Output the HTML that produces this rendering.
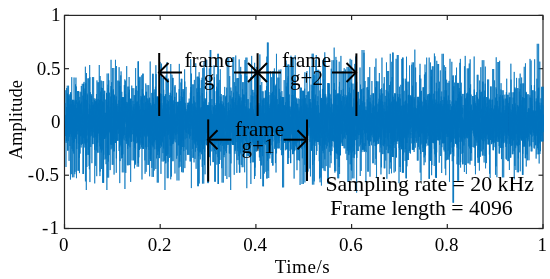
<!DOCTYPE html>
<html><head><meta charset="utf-8"><style>
html,body{margin:0;padding:0;background:#fff;}
body{width:550px;height:279px;overflow:hidden;}
svg{display:block;}
text{font-family:"Liberation Serif","Times New Roman",serif;fill:#000;}
</style></head><body>
<svg width="550" height="279" viewBox="0 0 550 279">
<rect x="0" y="0" width="550" height="279" fill="#fff"/>
<g stroke="#262626" stroke-width="1.2" fill="none">
<rect x="64.5" y="15.4" width="478.5" height="213.1"/>
<line x1="64.5" y1="228.5" x2="64.5" y2="224.0"/><line x1="64.5" y1="15.4" x2="64.5" y2="19.9"/><line x1="160.2" y1="228.5" x2="160.2" y2="224.0"/><line x1="160.2" y1="15.4" x2="160.2" y2="19.9"/><line x1="255.9" y1="228.5" x2="255.9" y2="224.0"/><line x1="255.9" y1="15.4" x2="255.9" y2="19.9"/><line x1="351.6" y1="228.5" x2="351.6" y2="224.0"/><line x1="351.6" y1="15.4" x2="351.6" y2="19.9"/><line x1="447.3" y1="228.5" x2="447.3" y2="224.0"/><line x1="447.3" y1="15.4" x2="447.3" y2="19.9"/><line x1="543.0" y1="228.5" x2="543.0" y2="224.0"/><line x1="543.0" y1="15.4" x2="543.0" y2="19.9"/><line x1="64.5" y1="15.4" x2="69.0" y2="15.4"/><line x1="543.0" y1="15.4" x2="538.5" y2="15.4"/><line x1="64.5" y1="68.68" x2="69.0" y2="68.68"/><line x1="543.0" y1="68.68" x2="538.5" y2="68.68"/><line x1="64.5" y1="121.95" x2="69.0" y2="121.95"/><line x1="543.0" y1="121.95" x2="538.5" y2="121.95"/><line x1="64.5" y1="175.22" x2="69.0" y2="175.22"/><line x1="543.0" y1="175.22" x2="538.5" y2="175.22"/><line x1="64.5" y1="228.5" x2="69.0" y2="228.5"/><line x1="543.0" y1="228.5" x2="538.5" y2="228.5"/>
</g>
<path d="M65.33 103.1 65.37 122.6 65.41 122.8 65.49 125.7 65.53 120.7 65.56 127.6 65.64 123.0 65.66 136.1 65.71 126.8 65.77 92.1 65.84 90.2 65.86 125.0 65.94 115.0 65.98 167.0 66.04 136.6 66.07 114.9 66.12 143.0 66.17 128.1 66.22 116.9 66.26 130.5 66.31 141.3 66.39 125.4 66.43 135.9 66.48 128.0 66.54 118.4 66.56 119.0 66.61 107.1 66.67 123.8 66.72 88.0 66.79 129.0 66.82 130.5 66.87 133.3 66.93 117.8 66.96 127.9 67.04 140.8 67.09 125.0 67.11 122.9 67.18 129.8 67.23 120.9 67.28 85.7 67.32 115.8 67.37 129.9 67.41 122.3 67.46 111.1 67.53 93.5 67.56 150.6 67.61 127.0 67.67 131.2 67.71 113.2 67.76 134.6 67.84 127.2 67.87 122.2 67.91 132.7 67.98 132.5 68.03 123.6 68.06 94.5 68.12 150.6 68.18 127.4 68.24 122.8 68.29 118.3 68.33 108.5 68.38 127.3 68.41 141.1 68.49 125.0 68.51 121.7 68.56 85.7 68.63 107.4 68.69 118.4 68.74 112.9 68.77 134.1 68.81 112.3 68.86 98.8 68.94 113.4 68.99 119.1 69.03 95.8 69.07 160.9 69.14 124.4 69.19 113.5 69.21 120.5 69.26 120.7 69.32 104.4 69.39 136.8 69.43 110.0 69.48 122.5 69.53 106.0 69.56 119.8 69.64 129.5 69.66 94.4 69.73 113.6 69.76 121.5 69.82 116.4 69.89 127.8 69.93 146.0 69.96 111.7 70.03 111.3 70.09 131.5 70.11 116.6 70.19 122.4 70.23 129.9 70.27 129.2 70.32 120.9 70.36 121.5 70.42 130.3 70.48 179.6 70.51 105.4 70.58 118.7 70.64 92.4 70.69 104.1 70.74 113.2 70.79 92.4 70.81 134.1 70.89 109.9 70.91 126.6 70.99 94.4 71.04 122.3 71.06 113.7 71.13 105.0 71.17 124.2 71.24 104.6 71.27 121.6 71.33 123.4 71.39 174.2 71.43 104.4 71.46 127.5 71.51 125.9 71.59 124.6 71.61 120.5 71.67 136.8 71.74 77.2 71.76 128.5 71.81 114.3 71.86 135.5 71.91 116.0 71.97 115.4 72.02 148.8 72.09 134.6 72.11 101.0 72.18 135.8 72.23 113.3 72.28 140.0 72.34 118.0 72.37 126.1 72.42 177.3 72.47 114.4 72.54 99.9 72.57 119.3 72.63 120.3 72.67 134.7 72.74 114.2 72.79 99.9 72.81 110.9 72.89 122.5 72.93 99.9 72.96 148.0 73.01 151.3 73.09 112.0 73.12 130.2 73.16 115.6 73.23 99.9 73.27 99.9 73.33 137.1 73.38 110.5 73.44 106.7 73.46 131.7 73.53 134.5 73.59 123.3 73.62 143.0 73.69 102.5 73.71 153.6 73.79 136.5 73.83 125.4 73.89 177.3 73.94 119.7 73.99 118.3 74.01 125.4 74.07 77.5 74.12 109.6 74.18 128.5 74.23 129.2 74.29 141.7 74.32 122.7 74.37 136.6 74.43 124.9 74.49 104.8 74.53 115.9 74.57 113.6 74.64 116.0 74.67 120.9 74.74 124.0 74.77 127.0 74.81 174.2 74.89 139.7 74.92 99.8 74.99 121.3 75.04 101.1 75.07 171.8 75.12 116.2 75.18 112.0 75.22 131.7 75.29 138.9 75.31 121.1 75.36 137.1 75.41 122.9 75.48 120.4 75.52 84.4 75.59 135.5 75.64 123.9 75.69 124.5 75.72 114.9 75.76 105.1 75.82 129.8 75.89 135.1 75.94 77.6 75.96 136.7 76.01 130.4 76.09 118.4 76.13 111.9 76.18 107.9 76.23 129.6 76.26 107.5 76.31 86.5 76.37 104.2 76.41 100.2 76.48 178.2 76.53 124.6 76.58 109.0 76.63 143.2 76.66 118.6 76.71 130.2 76.79 127.6 76.81 149.0 76.88 135.8 76.91 122.2 76.99 108.1 77.02 131.0 77.07 126.5 77.12 118.0 77.16 113.2 77.21 105.9 77.27 105.5 77.32 105.9 77.39 103.5 77.44 113.0 77.47 91.1 77.53 123.7 77.59 117.7 77.62 127.1 77.68 109.6 77.72 126.8 77.78 134.4 77.84 102.4 77.86 112.9 77.94 118.9 77.98 170.7 78.03 117.4 78.07 123.2 78.13 91.1 78.17 131.5 78.21 103.2 78.28 122.6 78.33 123.6 78.39 170.7 78.44 109.8 78.46 91.1 78.54 117.5 78.57 130.0 78.63 129.2 78.67 115.0 78.72 114.0 78.77 103.0 78.83 116.2 78.88 107.6 78.93 101.4 78.98 119.7 79.02 122.7 79.07 111.2 79.13 143.9 79.19 106.6 79.22 130.3 79.29 113.3 79.31 119.4 79.38 157.7 79.42 132.4 79.47 173.1 79.54 100.4 79.58 117.9 79.61 118.3 79.67 141.5 79.74 102.1 79.79 96.9 79.83 121.5 79.89 124.9 79.94 144.3 79.98 91.6 80.01 120.0 80.09 117.6 80.14 153.6 80.19 137.5 80.24 129.0 80.28 112.4 80.31 124.2 80.39 125.3 80.43 104.1 80.48 125.4 80.53 134.0 80.59 135.6 80.62 118.4 80.68 118.7 80.73 136.2 80.77 132.2 80.82 116.3 80.86 115.9 80.92 128.6 80.97 92.2 81.02 114.5 81.06 102.9 81.14 147.5 81.16 106.5 81.24 105.3 81.29 105.6 81.33 86.0 81.37 134.5 81.41 123.8 81.46 144.9 81.51 139.7 81.57 120.9 81.62 132.3 81.69 123.6 81.73 123.0 81.79 101.7 81.83 108.3 81.86 122.4 81.93 109.3 81.96 130.1 82.01 117.6 82.06 112.6 82.14 130.8 82.18 128.1 82.24 83.8 82.28 128.7 82.32 143.7 82.37 124.1 82.42 136.6 82.47 120.3 82.52 114.9 82.59 143.7 82.61 134.4 82.67 136.4 82.72 110.4 82.78 95.7 82.83 108.8 82.88 127.3 82.91 174.0 82.96 145.1 83.03 136.4 83.06 113.8 83.12 122.8 83.18 137.9 83.23 127.2 83.27 129.8 83.31 129.4 83.39 83.8 83.42 111.9 83.48 130.8 83.53 174.0 83.56 117.6 83.61 123.4 83.66 106.1 83.71 83.8 83.76 109.0 83.82 122.4 83.87 124.5 83.92 135.0 83.99 135.8 84.02 81.9 84.07 131.8 84.12 129.6 84.19 128.9 84.24 123.5 84.26 120.2 84.31 116.7 84.37 138.1 84.42 99.3 84.49 108.7 84.54 113.6 84.59 126.0 84.63 122.9 84.68 115.6 84.72 117.2 84.77 147.5 84.81 113.4 84.89 88.6 84.92 143.0 84.96 110.5 85.02 144.3 85.08 143.1 85.12 93.0 85.16 119.6 85.24 91.0 85.28 115.4 85.32 139.6 85.38 66.7 85.44 181.4 85.49 103.0 85.54 121.9 85.58 120.9 85.63 124.2 85.66 133.5 85.73 83.2 85.77 121.8 85.82 144.6 85.86 131.5 85.92 107.3 85.96 109.0 86.04 130.9 86.08 155.5 86.12 129.2 86.17 122.7 86.23 119.8 86.28 145.1 86.31 190.0 86.37 146.8 86.42 126.5 86.49 73.0 86.52 136.1 86.56 132.3 86.62 99.9 86.66 129.8 86.71 128.0 86.79 117.4 86.82 100.4 86.88 167.0 86.92 138.8 86.96 142.5 87.01 119.4 87.07 135.5 87.13 132.8 87.16 128.7 87.24 93.6 87.26 127.2 87.33 128.8 87.36 129.2 87.44 124.1 87.46 113.4 87.53 119.4 87.59 95.2 87.62 119.1 87.66 103.1 87.73 118.3 87.77 114.0 87.82 78.4 87.89 123.6 87.92 122.8 87.97 154.8 88.01 144.4 88.09 138.7 88.11 127.2 88.16 126.1 88.23 154.8 88.28 120.6 88.32 149.7 88.39 115.5 88.42 140.3 88.48 130.5 88.51 127.3 88.59 136.9 88.61 139.7 88.67 78.4 88.74 122.1 88.79 114.2 88.84 114.6 88.89 134.8 88.91 132.2 88.96 133.9 89.01 115.0 89.09 116.4 89.13 165.9 89.16 124.0 89.23 109.0 89.27 137.1 89.34 120.1 89.37 169.3 89.41 108.5 89.46 135.1 89.52 104.5 89.59 158.6 89.61 108.1 89.67 65.0 89.74 105.8 89.76 140.3 89.82 134.2 89.89 77.2 89.91 182.1 89.99 136.0 90.02 133.2 90.09 118.4 90.11 109.1 90.18 126.5 90.24 129.1 90.29 112.4 90.34 92.2 90.38 132.2 90.44 125.4 90.47 128.9 90.53 119.1 90.56 120.9 90.61 111.2 90.67 115.3 90.73 136.5 90.79 118.1 90.81 147.0 90.89 117.7 90.91 112.3 90.97 127.0 91.01 119.0 91.09 119.6 91.12 105.3 91.18 127.2 91.24 94.1 91.28 130.6 91.31 108.7 91.39 130.9 91.43 126.2 91.49 99.6 91.52 118.2 91.59 120.6 91.64 95.6 91.67 117.7 91.72 131.5 91.77 113.3 91.81 135.8 91.86 108.7 91.92 163.2 91.96 128.6 92.03 125.3 92.08 134.3 92.14 110.3 92.18 118.4 92.23 109.1 92.27 121.8 92.33 108.3 92.38 112.3 92.44 77.1 92.49 116.2 92.53 144.1 92.59 119.2 92.61 119.3 92.69 110.6 92.72 127.7 92.79 102.1 92.82 123.1 92.87 110.7 92.94 122.9 92.96 124.7 93.02 126.9 93.08 137.2 93.12 105.0 93.16 144.1 93.24 110.3 93.28 105.8 93.31 127.8 93.37 112.6 93.44 124.6 93.49 122.6 93.54 122.9 93.58 121.9 93.62 77.1 93.67 120.5 93.71 123.7 93.77 125.1 93.81 118.0 93.86 132.1 93.92 127.6 93.96 122.5 94.04 103.7 94.06 138.0 94.12 126.9 94.18 98.3 94.23 119.9 94.29 123.4 94.32 126.9 94.36 131.8 94.44 127.5 94.46 132.7 94.51 114.2 94.56 100.0 94.62 149.8 94.69 123.6 94.73 183.4 94.78 114.8 94.83 135.7 94.88 124.0 94.93 136.9 94.97 111.8 95.01 135.7 95.06 111.4 95.14 129.7 95.17 122.7 95.23 114.7 95.26 98.7 95.31 125.8 95.37 121.4 95.44 131.3 95.46 101.9 95.54 114.5 95.59 134.5 95.63 165.9 95.67 113.7 95.71 116.4 95.76 101.0 95.82 106.2 95.89 128.1 95.91 122.9 95.99 136.5 96.02 128.0 96.07 118.0 96.11 140.1 96.16 100.6 96.23 104.0 96.28 118.1 96.32 150.5 96.37 138.9 96.41 106.0 96.48 94.0 96.53 117.1 96.59 101.6 96.61 131.8 96.69 125.0 96.74 176.2 96.77 115.0 96.83 146.8 96.89 106.6 96.93 100.4 96.97 80.4 97.04 104.5 97.08 122.1 97.13 99.7 97.18 133.3 97.23 125.0 97.27 138.4 97.32 126.0 97.37 115.7 97.43 104.5 97.46 129.8 97.51 152.7 97.56 126.2 97.61 130.7 97.69 136.1 97.73 121.2 97.78 142.6 97.82 120.6 97.86 82.3 97.92 129.8 97.99 134.0 98.03 123.4 98.09 123.6 98.13 99.0 98.18 126.0 98.21 122.1 98.29 114.8 98.34 102.9 98.36 122.7 98.41 109.5 98.48 115.7 98.54 125.4 98.56 121.0 98.64 121.6 98.67 132.9 98.74 82.3 98.79 138.5 98.82 152.7 98.87 110.5 98.91 123.0 98.96 131.1 99.01 120.5 99.08 126.6 99.12 115.3 99.16 109.7 99.21 97.6 99.27 65.0 99.34 92.2 99.36 139.5 99.42 116.7 99.48 100.0 99.51 108.4 99.57 139.6 99.64 135.2 99.69 130.6 99.74 122.9 99.76 100.2 99.84 146.3 99.87 113.1 99.91 176.1 99.97 111.4 100.03 130.7 100.06 121.8 100.13 76.0 100.18 171.6 100.23 126.2 100.27 136.4 100.34 119.3 100.39 91.6 100.43 111.7 100.48 127.0 100.52 148.3 100.59 144.9 100.63 149.3 100.69 110.1 100.72 134.3 100.79 120.9 100.81 132.0 100.88 120.4 100.91 99.1 100.96 133.0 101.03 119.7 101.07 108.7 101.14 80.5 101.16 115.6 101.22 111.5 101.26 152.5 101.34 99.7 101.38 87.6 101.41 107.1 101.49 106.6 101.53 169.0 101.57 123.7 101.64 134.1 101.67 130.7 101.74 107.3 101.77 134.0 101.84 123.9 101.86 150.6 101.93 124.3 101.97 120.5 102.03 135.2 102.07 81.1 102.11 125.6 102.19 139.0 102.23 149.5 102.26 138.2 102.34 96.8 102.39 88.0 102.44 110.7 102.49 101.4 102.53 130.8 102.57 123.2 102.63 182.8 102.66 140.6 102.73 139.0 102.76 120.2 102.81 127.4 102.88 140.3 102.92 115.2 102.98 126.4 103.04 131.8 103.06 107.5 103.13 134.6 103.17 102.4 103.23 125.7 103.27 182.8 103.31 128.3 103.36 135.1 103.42 118.6 103.49 118.9 103.54 121.3 103.58 81.1 103.63 182.8 103.66 120.3 103.72 154.7 103.79 117.7 103.84 102.4 103.87 117.2 103.94 128.6 103.99 125.0 104.02 94.4 104.09 117.3 104.14 90.8 104.19 123.9 104.22 138.4 104.27 137.5 104.31 117.1 104.39 117.3 104.44 124.7 104.47 135.6 104.54 138.7 104.57 125.7 104.62 138.9 104.68 111.4 104.71 108.4 104.77 90.8 104.82 111.6 104.87 128.8 104.93 159.5 104.96 159.5 105.03 125.8 105.09 113.4 105.12 119.5 105.19 124.8 105.24 123.0 105.29 126.3 105.32 113.8 105.38 124.6 105.41 119.0 105.49 125.8 105.54 136.7 105.56 112.8 105.63 132.5 105.68 115.1 105.71 117.7 105.79 138.4 105.82 99.9 105.87 158.7 105.91 130.1 105.99 133.7 106.01 164.2 106.07 119.9 106.12 133.6 106.18 99.1 106.24 126.1 106.28 134.7 106.33 125.5 106.38 119.2 106.42 131.1 106.47 122.8 106.54 92.9 106.59 125.6 106.61 109.1 106.66 92.9 106.74 110.2 106.79 117.4 106.83 102.4 106.89 190.0 106.93 94.4 106.99 104.0 107.01 105.4 107.08 134.6 107.13 73.5 107.18 136.5 107.22 135.3 107.26 123.6 107.31 147.6 107.39 140.4 107.41 177.6 107.46 123.2 107.51 115.1 107.58 155.3 107.63 135.8 107.69 131.7 107.74 121.3 107.79 132.3 107.84 105.4 107.87 122.9 107.91 121.6 107.99 121.7 108.03 84.7 108.09 113.1 108.14 149.6 108.17 112.2 108.24 129.0 108.29 88.0 108.34 140.5 108.38 161.6 108.44 120.7 108.47 128.1 108.51 129.3 108.57 73.5 108.63 114.4 108.67 177.6 108.72 155.7 108.77 101.2 108.81 132.0 108.86 80.3 108.91 114.2 108.98 125.2 109.03 131.9 109.07 110.6 109.14 117.1 109.16 121.7 109.21 155.1 109.26 120.7 109.33 130.0 109.39 114.4 109.42 123.2 109.48 130.5 109.53 92.7 109.56 114.2 109.61 128.2 109.69 109.6 109.72 125.1 109.79 125.2 109.82 120.6 109.86 129.9 109.91 126.6 109.96 123.6 110.01 132.5 110.08 127.0 110.14 106.8 110.18 116.3 110.21 170.1 110.27 116.7 110.32 124.5 110.36 133.6 110.44 115.7 110.47 127.7 110.51 144.3 110.59 137.8 110.64 96.6 110.69 143.5 110.72 118.7 110.76 113.2 110.83 112.8 110.88 139.4 110.94 86.1 110.99 119.9 111.03 149.4 111.06 59.8 111.13 140.2 111.17 144.9 111.22 118.3 111.29 115.0 111.33 89.6 111.37 112.5 111.42 135.2 111.49 109.6 111.53 134.8 111.57 144.5 111.64 82.2 111.68 116.9 111.74 111.0 111.78 113.3 111.84 94.3 111.88 117.6 111.93 103.4 111.99 137.5 112.01 148.5 112.09 113.6 112.11 141.4 112.18 135.5 112.22 164.8 112.26 126.8 112.31 108.6 112.38 68.0 112.41 109.1 112.49 110.0 112.53 136.6 112.56 132.5 112.61 139.4 112.68 130.7 112.73 139.9 112.77 132.8 112.82 125.3 112.87 138.4 112.94 145.2 112.98 144.3 113.01 135.8 113.08 164.8 113.14 138.2 113.16 90.6 113.21 131.5 113.28 89.2 113.32 139.9 113.37 111.9 113.44 141.6 113.49 144.0 113.54 119.3 113.59 110.8 113.61 142.9 113.66 102.4 113.73 135.0 113.79 119.7 113.81 68.0 113.88 112.1 113.92 151.5 113.97 95.3 114.03 118.9 114.09 174.6 114.14 135.6 114.17 151.2 114.21 129.0 114.28 134.9 114.32 130.8 114.37 94.6 114.44 138.8 114.48 137.0 114.53 123.3 114.58 120.3 114.63 130.8 114.68 115.1 114.74 124.9 114.79 135.8 114.84 121.3 114.89 96.3 114.91 131.1 114.97 106.0 115.03 118.8 115.08 125.8 115.11 142.9 115.17 132.0 115.22 106.0 115.29 128.5 115.31 132.1 115.37 109.6 115.41 142.9 115.48 59.8 115.54 133.1 115.56 122.7 115.64 107.3 115.68 131.2 115.71 132.5 115.79 110.2 115.82 99.8 115.89 138.2 115.91 142.9 115.97 142.4 116.01 123.1 116.07 125.8 116.14 101.3 116.16 133.3 116.23 102.7 116.29 172.8 116.34 122.0 116.39 158.4 116.43 66.0 116.48 108.4 116.53 96.5 116.58 118.2 116.62 108.1 116.67 129.3 116.71 128.6 116.76 133.9 116.82 104.2 116.89 115.7 116.93 126.2 116.96 127.9 117.01 103.8 117.09 118.2 117.12 112.9 117.16 128.0 117.22 114.6 117.27 120.3 117.34 140.7 117.38 122.9 117.41 122.5 117.48 119.9 117.52 117.8 117.59 127.1 117.61 129.5 117.69 114.3 117.74 80.6 117.76 128.2 117.82 106.0 117.86 140.7 117.93 129.0 117.96 114.9 118.02 122.4 118.09 129.8 118.11 140.7 118.19 121.1 118.23 129.1 118.29 112.0 118.34 129.1 118.36 111.9 118.44 122.3 118.47 113.2 118.53 127.4 118.59 127.1 118.63 133.7 118.68 116.0 118.71 112.3 118.78 100.3 118.81 108.7 118.87 119.3 118.92 80.6 118.99 117.9 119.02 123.6 119.09 151.0 119.12 67.2 119.19 114.7 119.23 122.2 119.26 81.6 119.32 111.5 119.39 110.2 119.43 119.1 119.48 125.7 119.54 102.9 119.58 100.2 119.63 147.5 119.69 101.1 119.72 111.8 119.76 183.1 119.82 112.7 119.88 146.4 119.94 145.0 119.98 86.0 120.02 137.3 120.09 146.5 120.13 161.1 120.17 113.2 120.24 115.1 120.27 138.2 120.33 107.4 120.36 133.3 120.44 138.4 120.49 130.8 120.54 123.5 120.57 111.5 120.61 112.8 120.68 122.2 120.74 108.3 120.77 75.4 120.81 108.9 120.86 142.3 120.94 144.8 120.96 110.6 121.03 131.8 121.07 71.4 121.14 124.0 121.19 124.0 121.23 139.2 121.29 98.7 121.31 123.9 121.36 142.4 121.44 105.6 121.48 133.0 121.51 158.4 121.58 122.2 121.63 118.2 121.68 119.4 121.71 130.4 121.76 121.3 121.82 91.8 121.86 155.0 121.91 120.9 121.98 115.5 122.04 116.5 122.07 109.2 122.14 121.8 122.19 97.3 122.24 122.9 122.26 97.3 122.31 172.4 122.39 115.6 122.44 128.3 122.46 158.0 122.51 123.9 122.56 119.6 122.61 97.3 122.67 139.5 122.73 97.6 122.78 125.1 122.81 112.7 122.86 154.3 122.91 120.1 122.97 126.3 123.04 129.6 123.07 138.5 123.14 131.2 123.16 112.7 123.23 112.2 123.26 124.7 123.34 121.2 123.39 125.8 123.41 136.0 123.49 97.3 123.54 117.1 123.56 97.3 123.63 131.6 123.67 123.7 123.73 110.6 123.79 125.0 123.83 139.6 123.86 172.4 123.93 120.6 123.98 117.5 124.03 125.3 124.09 119.5 124.12 140.3 124.16 113.1 124.21 102.8 124.28 130.9 124.32 85.1 124.37 127.3 124.42 125.7 124.46 126.3 124.52 135.1 124.57 114.1 124.64 121.5 124.66 90.9 124.74 110.6 124.79 79.4 124.82 126.0 124.89 148.3 124.93 189.0 124.97 137.7 125.02 135.8 125.06 105.4 125.13 112.1 125.17 115.6 125.24 114.4 125.28 122.2 125.32 97.0 125.39 112.2 125.43 116.5 125.46 80.7 125.52 107.8 125.57 114.6 125.64 116.7 125.67 94.3 125.72 113.9 125.79 172.9 125.82 135.3 125.89 127.2 125.91 138.3 125.97 120.2 126.04 113.4 126.08 123.9 126.13 115.8 126.17 134.3 126.21 141.1 126.28 130.3 126.34 106.6 126.36 108.3 126.41 127.9 126.47 143.8 126.53 126.2 126.57 101.9 126.64 115.5 126.69 66.1 126.74 111.4 126.78 132.1 126.84 134.3 126.89 141.1 126.91 118.5 126.98 122.6 127.02 136.8 127.09 130.0 127.14 135.6 127.19 105.8 127.24 104.0 127.29 118.2 127.34 135.7 127.38 165.3 127.42 131.1 127.48 102.4 127.54 117.7 127.58 115.3 127.61 127.3 127.66 148.8 127.72 132.2 127.79 86.6 127.84 116.9 127.87 120.6 127.93 132.6 127.98 127.1 128.02 108.5 128.06 122.0 128.11 119.6 128.18 122.6 128.23 135.3 128.28 133.0 128.34 165.3 128.36 119.3 128.44 131.5 128.49 136.1 128.54 118.7 128.59 114.9 128.62 145.5 128.66 99.3 128.74 121.5 128.77 123.3 128.82 86.6 128.88 121.0 128.93 130.0 128.98 92.5 129.02 138.3 129.06 123.9 129.12 77.0 129.17 127.9 129.24 120.4 129.29 134.3 129.31 98.9 129.36 89.7 129.44 127.7 129.48 115.9 129.53 125.4 129.57 103.0 129.64 115.4 129.68 120.7 129.73 165.1 129.76 120.0 129.84 136.9 129.86 111.8 129.91 132.6 129.98 113.9 130.02 147.3 130.09 126.7 130.14 112.5 130.19 124.5 130.22 108.6 130.28 127.0 130.34 121.8 130.36 127.3 130.44 117.0 130.46 98.8 130.53 116.8 130.56 119.2 130.61 130.6 130.66 181.9 130.74 101.2 130.76 137.6 130.84 134.8 130.86 98.8 130.92 127.9 130.96 98.8 131.04 141.8 131.07 130.8 131.12 104.9 131.17 125.4 131.22 134.9 131.28 121.9 131.31 141.8 131.37 122.8 131.42 126.5 131.47 124.9 131.54 126.3 131.57 118.7 131.62 129.7 131.67 124.7 131.74 123.3 131.76 85.6 131.84 118.3 131.89 122.9 131.92 116.8 131.96 118.0 132.01 131.7 132.06 160.4 132.12 147.3 132.17 133.2 132.21 88.2 132.26 116.5 132.33 121.1 132.39 110.7 132.41 117.5 132.47 129.7 132.52 117.7 132.58 126.7 132.63 114.4 132.67 118.0 132.74 134.0 132.77 121.9 132.82 121.2 132.89 125.7 132.94 110.9 132.99 100.9 133.02 116.9 133.08 134.5 133.14 117.7 133.18 106.6 133.24 108.8 133.29 141.3 133.34 133.9 133.37 141.7 133.41 108.8 133.48 114.4 133.54 160.4 133.59 132.7 133.61 136.2 133.66 121.0 133.73 120.7 133.79 132.4 133.81 88.2 133.88 114.0 133.92 119.1 133.99 134.7 134.03 129.1 134.07 104.0 134.12 117.8 134.17 95.2 134.22 113.1 134.27 122.0 134.33 124.4 134.38 120.4 134.42 113.5 134.48 116.2 134.54 168.4 134.58 120.0 134.62 131.5 134.69 125.2 134.71 133.6 134.79 109.4 134.82 148.0 134.87 124.6 134.94 95.2 134.98 126.1 135.02 133.8 135.08 122.5 135.13 145.8 135.16 121.1 135.21 119.9 135.27 140.3 135.31 164.8 135.37 136.0 135.41 107.0 135.47 163.5 135.52 127.5 135.57 149.2 135.62 68.1 135.67 108.0 135.73 132.3 135.76 119.6 135.84 135.8 135.87 90.0 135.94 106.9 135.96 103.4 136.01 124.7 136.09 135.5 136.13 127.2 136.17 115.5 136.24 108.1 136.29 128.0 136.31 130.7 136.39 85.9 136.41 130.5 136.48 101.7 136.52 121.4 136.57 130.5 136.62 112.3 136.68 105.4 136.72 135.9 136.78 106.7 136.84 124.6 136.86 143.3 136.91 125.6 136.98 137.3 137.02 111.3 137.06 142.9 137.11 123.0 137.18 166.7 137.22 113.0 137.29 115.1 137.32 137.3 137.39 133.3 137.44 120.2 137.47 105.4 137.52 136.7 137.56 142.0 137.62 101.4 137.67 138.6 137.72 102.6 137.76 117.5 137.82 106.1 137.86 90.7 137.94 109.6 137.98 61.4 138.03 100.8 138.07 136.3 138.13 120.7 138.19 130.5 138.21 163.2 138.28 116.4 138.33 114.2 138.37 141.7 138.41 111.6 138.48 136.1 138.51 61.4 138.57 121.8 138.63 166.7 138.69 80.9 138.71 149.7 138.76 108.7 138.83 104.2 138.89 157.3 138.91 152.9 138.98 111.8 139.03 117.4 139.06 128.2 139.13 105.9 139.16 119.6 139.24 150.0 139.26 129.8 139.33 122.6 139.38 110.0 139.42 125.6 139.48 150.0 139.52 130.1 139.57 113.7 139.62 127.4 139.66 129.4 139.73 131.1 139.76 115.0 139.81 77.3 139.86 142.6 139.94 114.2 139.98 130.6 140.03 76.7 140.06 110.6 140.14 126.0 140.17 144.7 140.23 119.9 140.27 115.3 140.32 122.9 140.37 137.2 140.41 131.6 140.47 137.3 140.52 119.3 140.57 111.9 140.61 109.3 140.67 130.9 140.73 119.0 140.79 115.1 140.81 148.8 140.89 123.7 140.93 95.9 140.96 119.4 141.02 125.4 141.09 118.0 141.13 101.4 141.18 99.6 141.21 130.8 141.27 98.4 141.31 115.1 141.39 121.8 141.44 114.1 141.46 147.2 141.53 135.8 141.56 123.8 141.64 111.1 141.68 128.5 141.74 75.3 141.78 104.7 141.81 96.9 141.87 108.3 141.93 99.4 141.99 179.5 142.03 111.2 142.07 113.8 142.14 118.3 142.17 143.0 142.22 117.3 142.28 135.0 142.32 89.1 142.38 124.6 142.41 119.5 142.46 136.6 142.53 128.0 142.57 138.4 142.64 109.4 142.66 148.9 142.71 114.7 142.79 130.6 142.82 128.3 142.86 73.7 142.91 134.3 142.99 144.9 143.03 118.8 143.07 73.7 143.13 108.3 143.18 148.8 143.23 121.6 143.26 93.7 143.31 126.8 143.36 121.7 143.44 113.3 143.46 148.9 143.52 121.6 143.58 109.6 143.62 119.4 143.69 117.2 143.71 126.4 143.76 117.9 143.81 121.2 143.87 103.3 143.92 112.6 143.97 125.0 144.01 129.9 144.07 112.0 144.13 117.9 144.17 118.7 144.21 114.7 144.28 116.4 144.33 131.4 144.36 125.5 144.42 96.0 144.46 135.2 144.51 127.1 144.57 110.1 144.62 123.7 144.69 130.9 144.71 136.5 144.78 116.0 144.83 95.4 144.87 160.4 144.93 121.3 144.96 110.4 145.03 121.2 145.09 173.8 145.11 128.8 145.18 123.3 145.22 119.0 145.27 147.2 145.33 145.9 145.38 126.5 145.43 114.6 145.49 116.4 145.53 108.2 145.59 101.9 145.63 114.3 145.67 122.2 145.71 137.7 145.76 83.5 145.82 129.1 145.86 117.8 145.93 118.5 145.98 121.8 146.03 91.8 146.09 120.4 146.14 108.9 146.17 171.8 146.23 127.7 146.27 120.5 146.31 109.6 146.36 117.4 146.41 112.7 146.46 149.4 146.51 105.7 146.58 91.8 146.62 103.7 146.66 126.2 146.72 133.4 146.76 118.1 146.83 135.3 146.86 112.0 146.93 129.0 146.96 108.8 147.03 100.7 147.08 85.1 147.11 164.9 147.17 127.0 147.22 130.8 147.27 112.5 147.32 126.2 147.39 98.3 147.41 101.3 147.49 111.4 147.51 127.1 147.56 113.5 147.61 110.9 147.67 136.4 147.74 117.2 147.79 112.3 147.84 119.0 147.87 100.6 147.91 105.4 147.98 133.1 148.02 117.2 148.07 99.4 148.14 147.1 148.16 121.3 148.21 131.6 148.27 106.1 148.31 127.6 148.39 115.7 148.42 127.3 148.48 112.8 148.54 164.9 148.57 127.3 148.62 121.2 148.68 141.2 148.73 85.1 148.77 110.3 148.81 129.4 148.87 106.7 148.93 150.0 148.96 147.0 149.03 107.2 149.09 103.3 149.11 126.5 149.17 141.2 149.21 116.6 149.26 98.2 149.32 112.7 149.37 118.8 149.43 97.8 149.49 135.8 149.53 109.8 149.57 129.5 149.62 176.3 149.68 97.8 149.74 101.7 149.78 134.4 149.83 129.0 149.86 143.2 149.94 115.4 149.97 128.0 150.01 115.2 150.07 119.5 150.14 158.9 150.19 61.5 150.24 98.9 150.26 128.6 150.33 124.3 150.36 132.2 150.42 130.1 150.48 102.9 150.52 126.4 150.57 139.2 150.62 161.0 150.66 131.6 150.71 155.2 150.79 152.7 150.81 108.4 150.89 109.9 150.94 154.3 150.99 161.0 151.03 129.4 151.07 121.4 151.13 104.8 151.19 130.3 151.24 132.8 151.29 136.0 151.32 117.0 151.37 115.5 151.41 124.0 151.47 121.6 151.51 105.9 151.59 111.1 151.61 140.0 151.66 122.3 151.74 92.9 151.79 113.0 151.84 125.0 151.87 167.9 151.91 128.1 151.99 144.9 152.01 123.8 152.06 127.8 152.11 176.9 152.18 130.0 152.21 115.9 152.29 103.3 152.34 107.7 152.37 129.4 152.43 145.2 152.49 73.8 152.51 124.9 152.58 103.4 152.62 129.4 152.67 126.4 152.72 109.8 152.76 131.1 152.83 125.5 152.86 92.7 152.92 96.7 152.99 111.7 153.04 147.3 153.07 137.8 153.14 97.9 153.16 146.2 153.21 101.0 153.29 73.8 153.31 125.9 153.36 123.6 153.43 176.9 153.47 123.2 153.51 111.3 153.58 122.6 153.63 105.3 153.66 102.0 153.73 116.8 153.77 117.1 153.84 123.9 153.86 116.7 153.91 142.3 153.98 115.7 154.02 119.6 154.06 112.3 154.14 110.5 154.17 141.4 154.23 89.4 154.26 170.5 154.33 121.0 154.38 131.9 154.41 103.9 154.49 115.5 154.51 133.8 154.57 122.9 154.63 139.4 154.67 122.1 154.74 115.1 154.76 119.0 154.82 149.3 154.88 127.3 154.94 115.7 154.99 118.5 155.03 114.5 155.07 116.0 155.13 115.6 155.18 127.0 155.22 91.9 155.27 96.9 155.34 124.6 155.39 140.2 155.42 86.7 155.46 132.7 155.54 101.8 155.57 89.3 155.64 139.6 155.69 117.8 155.72 129.1 155.79 113.9 155.83 169.0 155.88 65.2 155.94 112.5 155.98 123.1 156.03 111.7 156.09 74.1 156.14 122.2 156.17 124.0 156.22 131.1 156.28 144.5 156.32 114.4 156.37 142.6 156.44 139.7 156.49 127.0 156.52 158.4 156.58 119.0 156.64 108.3 156.67 119.2 156.74 119.9 156.79 122.4 156.84 110.5 156.86 149.2 156.94 117.5 156.99 136.1 157.03 96.7 157.08 124.3 157.14 96.7 157.19 130.4 157.22 134.6 157.26 182.6 157.33 96.7 157.38 128.2 157.42 96.7 157.46 117.9 157.51 120.0 157.56 149.1 157.62 100.8 157.66 128.1 157.71 125.1 157.76 155.0 157.82 109.2 157.86 108.3 157.91 131.6 157.97 121.4 158.02 145.4 158.09 151.4 158.12 113.7 158.18 122.1 158.22 119.8 158.27 131.2 158.31 182.6 158.36 110.8 158.44 97.6 158.47 125.8 158.52 146.8 158.59 104.0 158.64 113.9 158.67 112.7 158.72 120.0 158.78 96.7 158.81 121.5 158.87 115.1 158.92 96.7 158.99 131.1 159.01 158.1 159.09 140.4 159.12 151.2 159.17 101.7 159.21 131.5 159.28 130.7 159.34 139.9 159.37 108.6 159.42 129.1 159.47 119.2 159.51 154.5 159.56 104.4 159.61 158.1 159.67 66.3 159.74 103.4 159.76 125.7 159.83 125.3 159.86 111.5 159.91 116.0 159.99 126.5 160.03 121.7 160.09 61.9 160.12 108.6 160.16 131.5 160.21 148.2 160.27 148.0 160.34 127.5 160.37 93.5 160.43 106.6 160.49 135.0 160.54 104.8 160.58 144.9 160.63 103.5 160.66 130.1 160.73 108.1 160.77 110.9 160.83 128.1 160.86 116.5 160.94 143.2 160.96 173.9 161.04 112.7 161.09 117.0 161.12 118.4 161.18 131.6 161.22 116.9 161.28 146.2 161.32 122.5 161.39 99.0 161.42 101.4 161.49 130.1 161.53 63.6 161.57 100.6 161.64 94.0 161.66 146.6 161.74 129.5 161.79 118.9 161.84 103.1 161.88 136.1 161.93 112.3 161.99 157.5 162.04 161.5 162.07 108.6 162.14 125.6 162.17 140.5 162.24 129.8 162.27 114.5 162.32 133.5 162.38 132.5 162.43 142.4 162.48 139.1 162.53 110.5 162.57 116.1 162.61 139.1 162.68 137.9 162.73 130.6 162.78 114.7 162.82 78.0 162.89 124.9 162.92 153.1 162.99 140.5 163.02 114.8 163.07 115.7 163.11 105.3 163.16 128.2 163.24 125.8 163.27 126.0 163.32 95.7 163.36 161.5 163.44 135.7 163.48 127.2 163.53 132.5 163.59 78.0 163.61 119.4 163.68 89.8 163.71 148.5 163.78 107.8 163.82 116.3 163.88 132.5 163.91 124.6 163.97 129.5 164.03 136.5 164.09 99.7 164.14 103.5 164.19 110.0 164.23 116.3 164.27 118.6 164.31 136.3 164.36 130.6 164.43 110.7 164.49 120.1 164.54 96.4 164.59 127.7 164.62 160.7 164.67 96.4 164.71 118.0 164.78 116.3 164.84 121.3 164.89 135.5 164.92 98.5 164.96 190.0 165.01 142.1 165.09 126.1 165.11 125.1 165.17 132.1 165.24 120.3 165.29 94.4 165.31 131.5 165.38 101.0 165.43 113.4 165.47 108.0 165.54 121.5 165.58 110.8 165.61 163.3 165.67 107.8 165.73 94.4 165.78 124.7 165.83 119.0 165.88 122.6 165.91 163.2 165.96 138.4 166.03 128.4 166.06 75.5 166.14 125.8 166.18 131.2 166.23 103.6 166.27 155.8 166.31 122.3 166.39 125.6 166.44 115.1 166.49 108.6 166.52 109.8 166.59 126.7 166.64 115.0 166.68 108.5 166.74 109.7 166.79 155.8 166.81 136.1 166.86 134.2 166.92 62.3 166.98 119.1 167.03 127.6 167.07 129.7 167.11 121.5 167.17 138.0 167.22 178.2 167.29 99.9 167.31 126.0 167.37 122.3 167.42 124.2 167.48 121.5 167.54 121.5 167.58 120.8 167.64 135.5 167.66 106.1 167.73 133.6 167.76 104.4 167.84 154.4 167.88 78.7 167.91 105.1 167.99 124.4 168.04 125.3 168.08 161.7 168.13 107.6 168.19 178.2 168.22 125.9 168.29 78.7 168.31 126.4 168.36 102.2 168.44 122.0 168.46 134.6 168.52 113.3 168.58 132.1 168.61 101.1 168.67 105.7 168.72 120.8 168.76 111.6 168.83 112.3 168.87 126.6 168.91 106.8 168.99 125.7 169.04 127.3 169.08 124.6 169.14 121.1 169.17 116.2 169.23 117.3 169.28 125.0 169.33 121.1 169.38 117.6 169.41 139.2 169.49 157.9 169.51 130.3 169.57 124.0 169.63 124.7 169.69 95.1 169.71 131.1 169.78 114.6 169.82 118.8 169.86 139.3 169.92 121.6 169.98 133.8 170.02 103.7 170.06 99.4 170.11 110.1 170.16 97.7 170.22 92.7 170.27 145.7 170.32 131.0 170.39 139.9 170.44 119.6 170.48 93.2 170.51 108.7 170.58 142.0 170.63 127.3 170.68 101.4 170.71 179.3 170.76 64.0 170.82 115.5 170.87 157.2 170.94 106.2 170.97 114.8 171.03 138.5 171.06 128.5 171.14 106.8 171.16 129.3 171.23 125.1 171.29 129.6 171.32 145.2 171.36 95.8 171.41 176.6 171.46 132.9 171.54 111.9 171.58 145.7 171.64 111.1 171.68 99.9 171.73 136.4 171.76 117.9 171.81 140.8 171.89 112.8 171.94 120.0 171.97 74.7 172.01 113.9 172.07 134.6 172.14 117.6 172.19 161.2 172.23 90.4 172.28 113.9 172.31 93.9 172.39 136.0 172.43 112.2 172.48 135.2 172.54 113.5 172.56 77.9 172.63 144.2 172.68 137.7 172.74 138.2 172.76 143.0 172.83 132.0 172.89 135.3 172.93 142.1 172.96 120.3 173.03 125.0 173.07 144.0 173.12 77.9 173.16 150.0 173.22 161.2 173.27 100.4 173.32 104.4 173.39 117.5 173.44 107.6 173.47 103.8 173.54 107.4 173.58 108.8 173.64 134.7 173.69 115.7 173.73 129.4 173.78 138.5 173.84 138.0 173.89 115.8 173.94 106.9 173.97 141.2 174.04 115.7 174.06 133.0 174.11 132.7 174.16 124.7 174.22 101.4 174.27 117.0 174.34 122.7 174.39 133.2 174.41 108.9 174.49 117.6 174.53 122.7 174.59 120.4 174.62 97.0 174.69 124.3 174.71 96.9 174.77 103.5 174.82 86.5 174.87 108.8 174.92 123.7 174.97 173.5 175.03 90.6 175.06 85.0 175.12 139.4 175.16 131.0 175.23 142.3 175.29 125.6 175.31 122.7 175.36 132.1 175.41 116.6 175.48 126.6 175.51 135.2 175.58 129.8 175.64 125.6 175.69 113.6 175.73 117.2 175.76 125.2 175.82 121.7 175.86 119.8 175.93 102.0 175.96 127.9 176.04 122.5 176.08 126.4 176.11 122.1 176.16 134.6 176.21 113.5 176.27 102.8 176.34 102.8 176.36 107.6 176.42 132.7 176.46 104.8 176.53 92.7 176.56 122.5 176.64 158.7 176.68 133.9 176.71 112.5 176.78 118.7 176.82 123.6 176.88 131.7 176.93 117.2 176.97 127.1 177.04 180.5 177.07 114.4 177.14 155.7 177.17 151.4 177.21 138.3 177.29 108.3 177.31 124.0 177.38 101.9 177.44 115.3 177.49 112.4 177.53 125.2 177.56 126.3 177.63 116.0 177.67 105.7 177.72 119.9 177.77 114.8 177.81 122.5 177.86 127.0 177.94 134.1 177.96 118.5 178.03 111.8 178.06 101.9 178.11 126.5 178.17 129.2 178.22 145.4 178.26 118.6 178.31 110.5 178.36 101.9 178.41 106.1 178.46 121.5 178.51 101.9 178.57 117.4 178.63 136.0 178.68 130.4 178.73 142.4 178.77 145.1 178.81 118.3 178.86 110.3 178.91 180.5 178.99 122.6 179.03 134.6 179.06 167.6 179.14 89.2 179.17 103.2 179.22 113.8 179.27 118.0 179.32 63.9 179.37 128.9 179.42 111.0 179.46 134.4 179.54 100.3 179.56 130.6 179.62 137.3 179.67 99.0 179.71 124.4 179.76 112.1 179.82 129.2 179.88 161.6 179.93 112.3 179.97 145.6 180.03 111.6 180.06 111.2 180.11 124.3 180.18 166.7 180.23 121.8 180.26 129.6 180.33 113.8 180.36 123.1 180.42 111.5 180.46 128.1 180.54 101.2 180.57 154.9 180.63 136.5 180.66 114.9 180.72 143.5 180.78 111.4 180.83 139.3 180.89 120.6 180.91 82.5 180.96 128.2 181.04 130.4 181.07 117.4 181.14 112.8 181.16 96.1 181.23 149.7 181.26 78.8 181.32 108.3 181.37 142.7 181.42 122.5 181.49 92.1 181.52 101.1 181.56 113.4 181.61 171.8 181.68 124.0 181.71 115.8 181.76 126.8 181.81 122.9 181.89 78.8 181.92 125.3 181.96 137.2 182.02 114.6 182.08 122.2 182.12 117.3 182.17 172.4 182.24 115.2 182.26 110.1 182.34 122.7 182.39 110.4 182.44 147.0 182.47 133.0 182.52 101.4 182.57 97.0 182.62 118.4 182.66 123.4 182.74 139.9 182.79 116.8 182.83 110.9 182.89 89.2 182.92 114.0 182.99 115.0 183.04 135.6 183.09 128.2 183.13 139.3 183.18 99.6 183.24 140.7 183.28 89.2 183.31 126.4 183.36 121.8 183.41 172.4 183.46 110.3 183.51 126.2 183.57 127.3 183.63 121.4 183.69 110.3 183.72 112.0 183.76 129.2 183.84 151.1 183.89 91.6 183.94 108.4 183.96 118.2 184.03 147.2 184.06 123.4 184.14 127.4 184.16 110.9 184.23 129.5 184.26 128.5 184.32 107.5 184.36 102.3 184.44 109.2 184.48 104.5 184.53 114.3 184.56 109.0 184.62 69.4 184.69 115.1 184.73 120.8 184.79 119.5 184.83 81.5 184.86 168.1 184.94 125.9 184.97 128.0 185.04 129.1 185.08 126.5 185.11 139.3 185.18 120.7 185.23 106.7 185.28 120.3 185.32 118.3 185.39 131.5 185.43 107.9 185.48 129.4 185.51 114.0 185.56 120.8 185.64 131.3 185.67 102.9 185.73 121.7 185.76 120.1 185.83 117.5 185.88 160.6 185.94 125.6 185.99 117.3 186.03 104.0 186.08 86.9 186.14 125.9 186.16 109.2 186.24 149.6 186.27 115.0 186.31 119.4 186.37 132.9 186.41 111.5 186.46 120.2 186.51 132.7 186.58 130.0 186.63 111.7 186.66 125.8 186.72 121.4 186.79 114.9 186.82 120.5 186.87 138.2 186.94 115.1 186.98 111.9 187.03 117.6 187.08 115.5 187.14 128.3 187.19 125.7 187.21 125.3 187.28 127.3 187.31 118.8 187.38 112.9 187.44 105.2 187.48 154.8 187.51 112.9 187.57 111.8 187.61 110.1 187.68 125.2 187.73 115.8 187.78 119.1 187.82 123.0 187.88 102.8 187.91 126.4 187.99 124.3 188.03 117.3 188.09 125.8 188.14 133.4 188.16 133.1 188.22 102.8 188.27 154.8 188.32 102.8 188.36 127.7 188.41 120.6 188.48 123.9 188.53 125.4 188.58 132.5 188.63 134.3 188.68 128.4 188.71 119.2 188.76 103.5 188.82 112.5 188.87 105.7 188.92 117.5 188.97 122.5 189.03 133.2 189.08 122.7 189.13 154.9 189.17 98.6 189.24 131.4 189.26 124.3 189.32 125.9 189.37 127.2 189.43 131.8 189.49 138.5 189.53 105.1 189.58 119.2 189.62 119.1 189.68 101.5 189.74 122.6 189.77 116.3 189.84 121.4 189.88 110.3 189.93 116.8 189.98 118.6 190.03 161.4 190.09 142.6 190.14 132.0 190.17 132.8 190.24 124.4 190.26 131.8 190.32 136.2 190.37 92.7 190.41 120.6 190.47 127.2 190.54 125.7 190.56 125.1 190.62 97.1 190.68 113.0 190.71 59.1 190.78 161.4 190.82 115.6 190.88 102.9 190.93 87.0 190.98 120.8 191.04 103.4 191.09 128.8 191.14 121.4 191.19 115.3 191.24 90.5 191.28 112.7 191.31 120.3 191.36 188.1 191.44 150.4 191.49 73.6 191.53 119.7 191.58 126.0 191.63 119.6 191.68 106.5 191.73 112.6 191.78 115.7 191.81 108.3 191.88 117.4 191.93 121.6 191.98 111.9 192.04 122.6 192.06 121.6 192.14 119.3 192.19 139.9 192.22 109.3 192.29 84.4 192.31 124.8 192.38 135.5 192.42 118.6 192.47 103.7 192.54 129.2 192.56 134.5 192.64 116.0 192.66 141.1 192.73 148.9 192.77 126.8 192.83 157.8 192.89 124.7 192.94 128.1 192.96 117.0 193.02 126.8 193.09 138.8 193.12 129.1 193.16 122.6 193.22 134.6 193.29 157.8 193.33 134.7 193.36 84.4 193.42 110.0 193.47 132.9 193.51 119.5 193.59 106.4 193.64 123.5 193.66 136.0 193.73 119.7 193.77 96.3 193.81 139.7 193.87 114.2 193.91 121.0 193.98 122.6 194.04 162.4 194.09 140.1 194.14 110.9 194.17 142.7 194.24 100.7 194.28 124.7 194.33 117.4 194.38 79.9 194.41 115.0 194.49 124.8 194.53 126.0 194.56 122.6 194.62 106.1 194.66 105.0 194.72 103.0 194.79 115.7 194.82 123.7 194.87 144.4 194.94 111.8 194.96 109.0 195.04 158.9 195.06 158.9 195.14 123.5 195.17 115.6 195.23 102.3 195.29 138.4 195.34 115.0 195.37 106.6 195.41 127.9 195.48 151.7 195.53 126.5 195.56 140.2 195.62 110.1 195.69 134.5 195.73 63.3 195.76 118.3 195.83 133.7 195.87 128.8 195.94 138.4 195.97 114.3 196.02 125.5 196.07 131.8 196.12 168.8 196.17 114.7 196.22 147.9 196.28 117.8 196.31 139.3 196.38 132.2 196.42 110.1 196.46 132.7 196.51 116.0 196.59 126.1 196.61 94.5 196.67 88.4 196.74 137.0 196.76 136.0 196.81 133.3 196.87 119.2 196.94 121.0 196.96 107.7 197.01 141.8 197.09 76.7 197.11 138.2 197.19 125.7 197.21 141.2 197.29 119.4 197.33 145.3 197.36 121.0 197.44 100.7 197.48 116.9 197.51 125.8 197.59 92.1 197.63 137.6 197.67 186.2 197.74 126.5 197.76 116.9 197.81 76.7 197.89 118.5 197.91 121.9 197.99 135.5 198.01 150.6 198.08 112.7 198.13 114.2 198.19 107.0 198.22 87.3 198.27 116.4 198.34 116.2 198.36 123.8 198.44 186.2 198.47 128.0 198.52 138.2 198.59 84.4 198.62 156.2 198.66 76.7 198.71 113.3 198.78 118.8 198.83 139.5 198.86 125.2 198.92 130.2 198.97 141.7 199.03 134.6 199.09 151.4 199.13 72.2 199.19 112.0 199.22 137.3 199.26 183.5 199.32 78.3 199.36 118.9 199.42 128.2 199.46 109.4 199.51 136.5 199.58 92.2 199.63 151.3 199.69 146.9 199.74 124.9 199.76 136.7 199.84 95.7 199.89 152.6 199.93 136.1 199.99 117.9 200.03 120.2 200.09 88.0 200.12 131.1 200.16 109.5 200.22 132.1 200.28 159.4 200.31 143.4 200.36 130.4 200.43 116.4 200.49 127.9 200.54 127.9 200.57 112.9 200.62 123.4 200.69 107.5 200.74 151.7 200.77 115.6 200.84 116.4 200.88 141.2 200.91 138.2 200.97 111.9 201.02 121.4 201.08 118.4 201.11 115.8 201.16 109.3 201.23 133.8 201.29 80.1 201.31 113.3 201.39 126.0 201.42 134.3 201.48 134.6 201.52 154.2 201.58 112.6 201.62 133.0 201.69 139.4 201.72 107.0 201.77 142.1 201.83 120.6 201.86 132.7 201.94 144.6 201.98 121.0 202.03 77.7 202.07 115.7 202.12 143.8 202.18 107.8 202.21 166.9 202.28 136.6 202.32 93.2 202.38 108.4 202.43 150.0 202.48 183.6 202.51 106.3 202.58 123.9 202.62 134.6 202.68 68.1 202.73 134.2 202.78 160.5 202.83 107.2 202.86 135.7 202.94 142.6 202.99 149.0 203.04 126.3 203.08 128.0 203.11 114.1 203.19 101.4 203.23 113.5 203.26 137.6 203.32 116.0 203.38 104.1 203.44 136.9 203.46 149.1 203.53 113.0 203.56 115.8 203.64 104.1 203.66 121.2 203.74 183.6 203.78 131.5 203.84 143.0 203.88 141.4 203.93 68.1 203.97 132.4 204.03 140.4 204.07 61.1 204.13 100.0 204.18 127.8 204.24 114.7 204.28 98.4 204.33 137.4 204.37 128.7 204.42 142.3 204.47 101.9 204.53 165.1 204.59 130.8 204.63 151.8 204.66 125.8 204.71 105.1 204.79 127.8 204.82 130.1 204.88 111.4 204.94 144.3 204.99 121.7 205.04 114.6 205.06 174.3 205.14 125.0 205.17 107.6 205.22 111.8 205.29 135.4 205.32 126.0 205.36 119.4 205.42 140.5 205.49 111.2 205.54 123.3 205.57 120.2 205.62 118.0 205.68 99.1 205.74 121.8 205.76 126.9 205.84 100.0 205.89 128.7 205.92 129.0 205.97 98.0 206.01 119.8 206.07 122.2 206.14 133.3 206.17 108.7 206.21 117.2 206.28 129.8 206.32 145.2 206.39 143.4 206.43 125.0 206.49 91.8 206.52 132.5 206.59 116.2 206.64 130.2 206.66 110.7 206.73 59.8 206.79 125.6 206.83 145.2 206.89 129.7 206.92 105.0 206.98 125.8 207.02 131.8 207.06 110.3 207.11 125.6 207.19 132.7 207.24 123.4 207.29 115.6 207.31 118.8 207.38 113.7 207.43 133.0 207.47 125.8 207.52 125.5 207.58 122.5 207.61 149.6 207.67 105.3 207.72 183.1 207.77 105.3 207.83 105.3 207.87 105.3 207.94 111.6 207.99 128.5 208.03 120.5 208.06 114.6 208.11 122.0 208.19 115.5 208.21 139.2 208.27 105.3 208.34 105.3 208.36 183.1 208.43 140.6 208.46 105.3 208.53 126.4 208.59 161.2 208.64 124.9 208.69 114.2 208.73 117.1 208.78 105.9 208.81 114.0 208.86 120.5 208.93 147.9 208.96 136.7 209.04 102.3 209.09 131.4 209.13 108.5 209.19 118.1 209.23 136.7 209.29 123.2 209.33 68.5 209.36 130.3 209.43 120.8 209.49 106.3 209.52 126.8 209.56 120.2 209.62 143.9 209.69 120.5 209.71 156.8 209.76 110.0 209.84 115.0 209.89 129.9 209.94 136.6 209.99 123.5 210.02 157.3 210.09 128.2 210.14 126.6 210.19 50.0 210.23 115.4 210.26 87.2 210.31 96.9 210.38 130.7 210.43 112.8 210.46 89.7 210.51 165.5 210.57 118.1 210.62 112.3 210.67 151.4 210.72 137.9 210.79 50.0 210.82 111.5 210.89 140.0 210.93 128.4 210.97 124.5 211.03 113.6 211.06 125.3 211.11 143.9 211.18 110.4 211.24 131.7 211.29 122.6 211.33 134.2 211.39 131.8 211.41 126.5 211.48 114.5 211.52 114.6 211.56 127.4 211.63 117.7 211.68 125.4 211.74 121.1 211.76 120.7 211.82 116.6 211.86 99.0 211.91 151.4 211.97 120.2 212.03 105.2 212.08 131.1 212.12 132.8 212.18 85.0 212.24 114.2 212.28 144.8 212.32 114.0 212.38 113.9 212.43 130.3 212.46 119.4 212.54 118.8 212.56 128.6 212.63 129.9 212.67 131.0 212.74 125.8 212.78 139.6 212.84 122.9 212.87 141.8 212.91 162.1 212.99 123.4 213.02 136.1 213.09 122.4 213.11 127.4 213.16 132.1 213.24 117.2 213.28 115.2 213.32 140.8 213.39 162.1 213.41 106.8 213.46 118.2 213.54 115.6 213.58 128.9 213.62 127.3 213.68 85.0 213.71 128.8 213.77 136.8 213.83 122.3 213.89 110.6 213.92 135.7 213.96 108.6 214.03 128.0 214.08 65.2 214.13 121.7 214.17 143.2 214.24 141.5 214.27 109.7 214.32 106.0 214.38 133.7 214.44 151.1 214.48 77.2 214.53 101.0 214.56 115.5 214.64 181.7 214.67 134.0 214.73 117.8 214.78 141.4 214.84 91.2 214.86 119.9 214.91 114.9 214.97 142.7 215.01 110.3 215.06 108.3 215.11 110.5 215.19 105.1 215.23 126.6 215.28 127.0 215.33 110.4 215.39 137.3 215.43 181.7 215.47 146.1 215.51 127.2 215.57 131.4 215.61 137.8 215.69 114.9 215.74 131.7 215.77 127.0 215.83 125.6 215.87 131.7 215.93 105.1 215.99 128.6 216.02 117.7 216.06 154.2 216.11 121.0 216.16 103.2 216.23 132.1 216.27 118.8 216.31 144.3 216.38 109.8 216.43 139.2 216.49 141.2 216.51 127.2 216.58 86.7 216.62 131.6 216.67 141.4 216.72 115.4 216.78 118.9 216.83 74.4 216.89 164.7 216.93 146.4 216.97 127.1 217.02 134.3 217.07 123.7 217.14 132.3 217.19 108.2 217.23 124.4 217.27 122.6 217.33 90.6 217.37 115.7 217.43 119.2 217.46 123.0 217.51 121.2 217.57 110.1 217.62 139.9 217.66 97.7 217.74 88.5 217.78 97.5 217.82 53.8 217.89 157.1 217.91 132.0 217.97 184.0 218.02 119.3 218.06 142.8 218.13 124.7 218.19 108.2 218.22 82.8 218.26 141.8 218.34 109.2 218.36 53.8 218.41 121.1 218.47 90.7 218.51 184.0 218.56 91.1 218.64 122.8 218.66 163.2 218.74 105.6 218.78 99.8 218.81 96.3 218.86 96.5 218.93 123.2 218.98 138.8 219.03 115.7 219.07 115.9 219.14 109.0 219.17 136.5 219.21 119.3 219.27 131.2 219.31 107.9 219.37 110.9 219.42 137.0 219.47 103.5 219.53 164.0 219.59 105.9 219.64 119.4 219.68 134.6 219.72 138.0 219.76 79.9 219.83 122.7 219.86 132.3 219.91 114.4 219.98 142.0 220.01 159.9 220.09 146.2 220.11 112.1 220.19 117.0 220.24 142.1 220.29 69.2 220.34 111.4 220.38 124.0 220.42 110.5 220.48 110.9 220.53 144.8 220.56 126.9 220.64 115.0 220.67 108.4 220.73 100.9 220.77 151.5 220.82 123.4 220.89 111.5 220.94 103.7 220.96 96.7 221.01 124.5 221.08 109.4 221.11 143.5 221.19 107.3 221.21 124.4 221.27 94.0 221.31 121.3 221.39 111.6 221.44 103.7 221.46 129.2 221.51 121.3 221.56 124.4 221.63 119.7 221.68 142.5 221.73 124.4 221.77 125.4 221.82 168.2 221.88 124.7 221.91 141.5 221.99 104.9 222.03 130.7 222.07 182.6 222.11 101.3 222.16 139.7 222.23 140.6 222.26 113.9 222.33 145.9 222.37 127.8 222.42 105.9 222.49 122.4 222.51 129.5 222.58 132.9 222.62 135.9 222.66 131.2 222.72 120.5 222.79 104.3 222.81 108.3 222.88 130.8 222.92 133.3 222.98 95.2 223.04 108.2 223.07 133.2 223.14 113.6 223.17 122.5 223.22 135.9 223.28 111.7 223.32 182.6 223.37 113.3 223.43 135.8 223.48 116.9 223.52 102.7 223.59 114.6 223.63 131.7 223.69 123.4 223.73 128.3 223.76 95.2 223.83 139.2 223.86 122.4 223.91 115.1 223.98 148.8 224.02 124.2 224.09 157.2 224.14 138.4 224.17 155.0 224.22 115.8 224.27 106.3 224.34 139.6 224.37 130.8 224.41 119.5 224.49 111.9 224.53 115.4 224.57 108.1 224.64 123.7 224.68 118.2 224.71 86.9 224.79 128.1 224.82 109.0 224.86 115.7 224.94 111.6 224.97 127.6 225.03 115.1 225.08 121.7 225.13 115.1 225.16 144.4 225.21 135.2 225.26 175.9 225.32 126.2 225.38 118.6 225.44 97.2 225.49 127.4 225.53 120.0 225.57 130.7 225.62 131.6 225.68 124.2 225.72 142.6 225.79 151.2 225.83 105.1 225.86 96.0 225.94 108.3 225.96 121.6 226.01 136.9 226.09 140.2 226.14 121.2 226.16 129.0 226.22 121.2 226.28 126.3 226.31 95.3 226.37 130.0 226.44 153.1 226.49 121.7 226.51 123.4 226.57 121.1 226.62 147.8 226.68 106.3 226.71 87.6 226.79 124.1 226.81 147.4 226.88 179.0 226.93 124.4 226.99 103.0 227.04 114.7 227.08 116.8 227.11 130.1 227.18 142.5 227.23 57.6 227.29 108.2 227.31 115.2 227.39 117.3 227.42 117.7 227.49 123.7 227.53 119.4 227.56 123.2 227.63 118.7 227.68 136.9 227.71 132.4 227.76 115.2 227.82 144.7 227.88 144.7 227.92 121.6 227.96 144.7 228.01 119.4 228.08 111.1 228.11 123.7 228.18 130.3 228.24 144.7 228.29 123.1 228.34 132.0 228.38 111.9 228.41 127.9 228.47 102.4 228.54 106.0 228.56 140.7 228.63 107.8 228.67 128.8 228.74 103.7 228.77 57.6 228.82 123.7 228.87 113.6 228.93 130.9 228.99 118.4 229.03 127.7 229.09 137.0 229.14 177.2 229.19 142.4 229.21 138.5 229.29 110.3 229.33 153.4 229.38 110.5 229.43 129.4 229.47 137.7 229.52 118.8 229.59 112.5 229.63 132.3 229.69 76.1 229.71 109.7 229.78 110.5 229.83 123.5 229.86 135.2 229.93 138.1 229.97 132.4 230.01 130.3 230.07 112.0 230.12 95.6 230.16 105.3 230.24 118.8 230.26 154.0 230.34 104.5 230.38 104.6 230.42 125.4 230.46 130.1 230.54 111.4 230.56 135.5 230.64 109.2 230.68 190.0 230.72 137.3 230.76 121.9 230.82 87.5 230.86 122.1 230.94 113.4 230.98 143.7 231.02 163.4 231.07 122.9 231.12 129.8 231.17 131.7 231.21 118.4 231.27 90.8 231.32 118.1 231.38 131.8 231.43 113.3 231.49 120.0 231.53 115.1 231.59 108.5 231.63 132.4 231.67 123.6 231.71 128.8 231.78 132.0 231.83 98.8 231.86 111.1 231.93 142.3 231.99 117.0 232.02 144.2 232.06 115.6 232.11 132.4 232.17 125.5 232.21 123.5 232.29 110.6 232.33 111.6 232.37 97.3 232.43 145.0 232.46 128.6 232.54 128.9 232.58 112.8 232.63 99.5 232.66 117.1 232.72 129.9 232.78 118.1 232.82 57.1 232.86 121.4 232.92 132.3 232.99 145.0 233.02 101.6 233.08 139.4 233.14 98.9 233.16 119.6 233.21 125.0 233.28 123.1 233.31 125.6 233.39 101.9 233.41 119.8 233.49 145.0 233.51 92.7 233.56 109.6 233.62 137.1 233.68 126.9 233.74 134.5 233.77 57.1 233.84 145.0 233.89 118.6 233.94 130.2 233.97 133.1 234.01 135.6 234.09 124.9 234.14 125.1 234.17 128.0 234.24 174.8 234.29 108.6 234.33 120.7 234.38 82.1 234.44 101.1 234.49 130.2 234.54 122.7 234.56 117.9 234.61 128.3 234.66 123.5 234.72 110.6 234.76 122.0 234.83 102.2 234.89 133.0 234.94 118.9 234.96 143.0 235.04 153.8 235.09 126.8 235.14 138.9 235.18 129.4 235.24 151.1 235.27 100.0 235.32 121.0 235.38 133.5 235.42 136.2 235.47 112.9 235.52 98.2 235.57 142.0 235.62 131.0 235.69 149.7 235.74 55.5 235.79 119.4 235.84 86.2 235.87 123.8 235.92 128.8 235.99 133.1 236.04 129.7 236.09 134.9 236.11 111.9 236.19 113.3 236.22 133.4 236.27 78.3 236.31 111.8 236.38 116.3 236.43 134.7 236.48 118.2 236.51 122.3 236.59 104.9 236.62 135.2 236.67 108.4 236.73 115.3 236.76 137.3 236.84 172.9 236.88 108.0 236.94 142.1 236.97 91.5 237.03 108.8 237.09 121.5 237.14 160.1 237.17 117.9 237.23 135.7 237.27 122.6 237.34 107.9 237.37 107.4 237.41 115.7 237.49 125.7 237.52 78.0 237.59 104.1 237.63 114.8 237.68 127.6 237.73 151.2 237.79 133.7 237.84 148.0 237.88 105.0 237.92 119.3 237.97 132.0 238.01 115.1 238.09 100.6 238.11 107.9 238.19 128.2 238.23 109.6 238.29 131.0 238.31 141.5 238.39 114.7 238.43 102.6 238.47 110.2 238.51 139.2 238.56 78.0 238.64 112.5 238.69 128.2 238.72 156.2 238.78 107.9 238.83 109.7 238.87 115.0 238.92 145.8 238.98 160.1 239.03 94.3 239.07 164.6 239.11 134.9 239.17 59.4 239.22 130.5 239.27 96.2 239.32 134.9 239.38 98.3 239.42 172.6 239.49 149.8 239.52 140.9 239.57 130.9 239.62 120.0 239.69 102.8 239.73 125.4 239.79 104.4 239.81 152.2 239.89 172.6 239.91 128.4 239.99 113.1 240.04 154.4 240.08 138.2 240.13 123.7 240.19 127.3 240.21 123.6 240.29 119.9 240.33 124.6 240.38 125.2 240.42 152.7 240.46 105.5 240.51 131.2 240.58 125.5 240.62 134.2 240.69 66.9 240.71 135.4 240.79 114.4 240.82 104.4 240.87 97.4 240.92 104.2 240.97 112.7 241.04 110.9 241.06 142.6 241.13 108.0 241.16 74.7 241.24 164.9 241.26 107.6 241.34 114.8 241.36 111.7 241.43 142.2 241.48 112.3 241.54 119.6 241.56 110.3 241.62 121.5 241.66 104.9 241.71 117.4 241.76 111.2 241.81 100.7 241.89 118.8 241.93 106.4 241.97 118.1 242.03 132.9 242.08 167.2 242.14 138.0 242.16 122.4 242.24 131.2 242.28 141.0 242.33 97.8 242.38 151.2 242.42 100.8 242.48 141.4 242.54 120.1 242.57 89.3 242.64 151.6 242.66 140.9 242.73 82.2 242.78 118.9 242.82 129.1 242.86 121.8 242.94 135.1 242.99 119.7 243.02 167.2 243.09 94.9 243.13 126.1 243.19 82.2 243.24 144.4 243.26 115.3 243.31 125.1 243.39 94.4 243.41 126.1 243.49 109.9 243.53 108.2 243.57 98.1 243.63 139.9 243.66 99.2 243.73 121.2 243.79 122.9 243.81 125.8 243.89 127.0 243.92 126.3 243.97 154.4 244.04 140.5 244.08 113.5 244.14 124.9 244.16 138.4 244.23 132.7 244.27 130.2 244.31 124.3 244.37 119.2 244.43 125.2 244.48 137.4 244.53 94.7 244.57 104.5 244.63 172.3 244.67 103.6 244.74 115.2 244.79 126.1 244.82 119.7 244.88 71.8 244.92 102.9 244.98 60.0 245.04 123.4 245.07 130.7 245.13 126.0 245.17 123.3 245.24 129.4 245.26 106.9 245.34 111.0 245.38 119.2 245.41 139.9 245.47 113.4 245.52 141.3 245.58 118.6 245.64 120.7 245.69 151.8 245.73 134.3 245.76 132.2 245.84 89.7 245.89 57.6 245.91 124.7 245.98 106.6 246.02 108.2 246.07 125.8 246.13 106.4 246.16 120.7 246.21 132.2 246.28 92.4 246.31 127.0 246.39 149.9 246.42 128.3 246.46 109.8 246.54 145.1 246.56 104.5 246.64 105.0 246.69 76.0 246.74 135.0 246.79 107.2 246.81 188.2 246.86 130.3 246.92 119.1 246.97 57.6 247.01 117.3 247.06 108.5 247.11 118.2 247.19 114.7 247.21 126.7 247.28 130.3 247.32 121.7 247.38 146.1 247.42 117.9 247.48 112.7 247.51 120.9 247.57 123.7 247.61 111.6 247.67 122.0 247.74 112.6 247.79 99.2 247.81 115.0 247.89 113.0 247.93 155.9 247.96 119.3 248.04 117.1 248.07 113.5 248.11 118.1 248.19 127.6 248.21 99.2 248.27 110.6 248.32 122.7 248.36 155.9 248.42 132.8 248.49 111.0 248.53 126.3 248.58 128.5 248.61 125.8 248.67 129.6 248.71 124.0 248.77 109.9 248.82 114.4 248.87 108.5 248.92 108.0 248.99 129.9 249.02 109.4 249.07 81.5 249.11 96.6 249.16 123.5 249.22 143.4 249.29 111.5 249.34 109.0 249.36 135.9 249.43 141.3 249.46 156.7 249.51 112.9 249.58 135.3 249.63 125.8 249.69 131.1 249.74 136.1 249.76 137.7 249.83 119.9 249.89 126.2 249.94 129.8 249.98 153.5 250.04 125.4 250.09 150.5 250.14 127.9 250.19 135.0 250.24 126.1 250.29 108.9 250.31 115.1 250.39 113.6 250.41 102.6 250.47 163.1 250.54 114.3 250.56 122.2 250.64 123.5 250.69 144.4 250.71 112.2 250.78 101.8 250.84 77.0 250.88 184.0 250.93 110.7 250.98 105.8 251.01 128.4 251.08 107.7 251.12 95.3 251.18 130.8 251.22 120.5 251.26 133.7 251.33 106.6 251.37 126.7 251.44 137.8 251.47 102.8 251.51 108.6 251.56 134.7 251.62 104.7 251.66 55.9 251.73 82.5 251.77 97.0 251.84 129.9 251.86 145.2 251.94 134.6 251.97 119.9 252.04 140.5 252.06 108.2 252.13 118.8 252.19 114.9 252.22 125.1 252.28 162.3 252.31 89.9 252.37 133.1 252.42 111.3 252.49 141.5 252.51 132.8 252.56 139.0 252.64 106.5 252.66 142.5 252.73 135.3 252.78 114.1 252.82 119.2 252.89 96.1 252.92 100.2 252.96 114.6 253.04 116.3 253.06 89.9 253.13 97.9 253.16 119.5 253.23 137.5 253.27 134.3 253.32 113.5 253.36 109.3 253.43 162.3 253.47 112.0 253.53 119.7 253.56 139.5 253.64 130.3 253.66 143.2 253.71 126.5 253.78 138.0 253.81 120.8 253.87 123.9 253.93 144.9 253.99 113.3 254.02 92.4 254.07 99.2 254.13 133.1 254.16 114.1 254.21 128.4 254.28 124.0 254.34 126.8 254.38 134.1 254.44 148.1 254.47 179.0 254.52 118.4 254.57 99.7 254.62 62.8 254.67 112.6 254.74 129.6 254.77 116.9 254.82 137.6 254.87 126.6 254.94 124.3 254.97 167.6 255.03 149.7 255.08 176.1 255.13 136.9 255.18 118.5 255.21 112.7 255.27 128.4 255.32 150.9 255.36 118.5 255.43 69.0 255.49 122.4 255.51 131.2 255.58 112.3 255.61 123.4 255.69 142.2 255.73 120.8 255.76 145.3 255.83 105.4 255.86 114.1 255.91 140.0 255.98 118.7 256.03 111.9 256.09 108.4 256.14 128.0 256.17 94.8 256.23 127.6 256.28 123.5 256.31 66.9 256.38 151.4 256.42 117.2 256.47 146.6 256.53 131.5 256.58 123.6 256.62 127.3 256.69 119.9 256.71 133.2 256.78 123.8 256.81 151.4 256.89 127.8 256.94 141.9 256.98 113.1 257.04 124.1 257.09 120.2 257.13 125.6 257.19 138.1 257.21 71.0 257.29 134.8 257.34 142.3 257.38 126.1 257.43 99.0 257.46 101.2 257.52 123.1 257.58 120.5 257.62 115.6 257.66 104.5 257.74 118.1 257.79 128.5 257.82 127.4 257.88 107.5 257.93 148.6 257.99 130.5 258.01 117.5 258.07 114.2 258.12 114.3 258.16 71.0 258.22 109.0 258.27 113.4 258.32 112.2 258.37 133.5 258.41 130.3 258.46 123.7 258.51 121.0 258.58 122.0 258.64 118.2 258.69 121.9 258.71 127.9 258.79 143.6 258.84 111.3 258.89 114.5 258.93 148.6 258.97 115.7 259.03 103.0 259.07 134.1 259.13 127.8 259.17 105.7 259.21 127.0 259.26 143.3 259.34 134.4 259.37 157.4 259.44 112.7 259.48 152.5 259.54 104.8 259.57 151.2 259.64 121.6 259.67 148.0 259.72 127.9 259.76 104.5 259.81 102.7 259.86 54.4 259.93 123.9 259.97 120.5 260.01 160.9 260.06 85.2 260.14 136.9 260.18 129.7 260.22 118.8 260.28 152.0 260.31 119.2 260.39 132.6 260.43 134.3 260.49 111.2 260.53 85.2 260.58 116.9 260.64 113.5 260.68 178.9 260.71 133.9 260.78 118.2 260.82 98.2 260.88 119.3 260.94 108.2 260.98 126.0 261.03 105.8 261.09 165.4 261.13 123.6 261.19 128.1 261.23 127.3 261.27 139.7 261.32 128.0 261.38 137.8 261.44 117.6 261.49 121.8 261.54 142.5 261.58 146.7 261.62 129.3 261.68 113.2 261.74 115.4 261.77 82.0 261.81 165.4 261.87 129.5 261.93 133.0 261.99 127.2 262.01 131.8 262.08 135.6 262.12 91.3 262.19 103.5 262.24 130.3 262.29 117.1 262.33 100.3 262.39 117.4 262.41 123.4 262.49 156.2 262.53 101.1 262.58 112.1 262.63 120.5 262.66 130.1 262.72 142.7 262.76 186.3 262.84 124.3 262.87 104.8 262.91 142.2 262.99 99.2 263.04 136.5 263.07 122.6 263.12 91.3 263.18 137.9 263.21 104.9 263.27 119.7 263.31 115.3 263.37 149.8 263.44 150.9 263.49 167.1 263.54 186.3 263.58 126.2 263.63 110.8 263.67 98.5 263.74 126.6 263.76 126.9 263.81 115.2 263.86 97.8 263.92 135.8 263.96 112.4 264.02 105.0 264.07 139.7 264.11 132.9 264.18 127.4 264.21 135.0 264.29 98.5 264.32 128.9 264.37 173.5 264.43 113.1 264.49 121.9 264.51 122.0 264.57 143.5 264.64 113.4 264.69 116.9 264.72 136.1 264.77 119.7 264.84 124.8 264.86 128.9 264.91 134.9 264.98 130.9 265.04 143.8 265.08 118.5 265.13 119.4 265.16 120.8 265.21 116.5 265.29 90.6 265.33 110.3 265.38 97.6 265.44 121.9 265.49 110.4 265.53 144.7 265.56 124.1 265.63 139.1 265.69 103.0 265.74 90.6 265.79 114.8 265.83 171.8 265.88 123.8 265.91 121.9 265.98 119.5 266.04 132.0 266.08 136.5 266.12 125.2 266.16 135.9 266.23 116.1 266.28 120.6 266.33 127.8 266.36 126.5 266.44 127.1 266.49 86.2 266.52 122.6 266.57 134.7 266.64 128.5 266.69 108.6 266.71 126.5 266.78 125.5 266.82 56.6 266.87 119.0 266.93 178.8 266.98 113.2 267.03 178.0 267.08 139.8 267.11 155.5 267.18 129.7 267.23 125.7 267.28 126.6 267.33 126.3 267.39 42.5 267.42 143.9 267.49 102.1 267.52 161.0 267.56 121.1 267.63 113.6 267.67 140.7 267.73 159.2 267.77 107.8 267.82 138.0 267.88 104.5 267.93 104.8 267.97 122.7 268.03 96.5 268.09 170.8 268.14 116.7 268.19 102.4 268.23 42.5 268.26 106.9 268.34 134.6 268.36 145.4 268.41 130.6 268.47 133.1 268.51 154.4 268.56 71.3 268.63 133.0 268.69 139.7 268.72 178.0 268.77 124.2 268.83 92.0 268.87 128.7 268.92 114.5 268.99 120.4 269.02 105.6 269.07 126.4 269.11 115.9 269.16 124.6 269.22 130.9 269.26 132.1 269.31 126.5 269.39 108.3 269.44 113.5 269.48 129.8 269.53 111.5 269.59 123.6 269.61 129.6 269.68 117.6 269.72 132.0 269.79 158.5 269.82 108.4 269.86 141.7 269.94 116.4 269.99 95.1 270.03 107.0 270.09 119.0 270.11 103.8 270.18 142.4 270.21 118.4 270.28 129.6 270.33 126.0 270.38 148.8 270.42 109.2 270.48 71.3 270.54 154.3 270.57 140.9 270.62 134.3 270.66 102.8 270.72 123.6 270.76 126.8 270.84 115.3 270.87 122.0 270.94 118.9 270.96 111.8 271.02 125.9 271.09 145.3 271.12 117.5 271.17 115.4 271.22 106.9 271.27 93.1 271.32 116.6 271.37 108.3 271.41 137.9 271.48 104.7 271.53 109.5 271.58 102.4 271.61 77.2 271.66 115.4 271.73 100.8 271.77 131.4 271.83 163.0 271.87 106.4 271.92 133.1 271.97 138.3 272.04 108.4 272.09 118.5 272.13 139.9 272.17 99.1 272.22 103.2 272.28 132.7 272.31 94.0 272.37 114.3 272.41 119.6 272.47 91.8 272.51 160.5 272.59 146.6 272.62 165.5 272.66 125.4 272.72 71.5 272.76 98.1 272.81 114.0 272.86 141.4 272.93 131.8 272.96 108.4 273.03 165.5 273.08 134.1 273.14 112.3 273.16 117.1 273.22 131.8 273.28 112.0 273.31 112.7 273.39 71.5 273.42 75.5 273.48 100.1 273.51 108.6 273.59 105.3 273.61 75.1 273.67 104.2 273.72 132.5 273.77 116.3 273.83 120.1 273.88 130.1 273.94 117.2 273.99 117.3 274.02 131.3 274.07 95.1 274.14 132.7 274.16 104.8 274.23 120.3 274.29 101.6 274.34 129.8 274.39 68.4 274.42 116.9 274.46 124.3 274.52 148.8 274.57 131.6 274.63 122.4 274.68 126.6 274.74 111.1 274.77 122.5 274.82 139.9 274.86 126.3 274.94 122.6 274.97 133.4 275.04 85.9 275.06 122.0 275.12 109.3 275.16 116.7 275.23 98.9 275.26 122.9 275.33 113.5 275.39 134.4 275.43 163.1 275.49 101.4 275.52 114.7 275.58 119.2 275.62 147.0 275.69 85.3 275.71 138.1 275.79 111.2 275.81 130.9 275.89 116.6 275.91 134.3 275.98 96.7 276.03 172.5 276.06 110.0 276.11 138.7 276.18 102.2 276.21 83.8 276.26 104.7 276.32 89.0 276.36 136.4 276.44 100.6 276.47 53.8 276.53 150.6 276.56 153.4 276.63 135.3 276.69 119.3 276.74 111.8 276.79 125.4 276.82 122.2 276.87 123.1 276.94 119.1 276.96 109.2 277.01 123.0 277.08 143.3 277.14 136.6 277.17 108.9 277.21 114.5 277.28 129.0 277.33 128.8 277.39 148.4 277.43 142.2 277.49 115.5 277.51 125.4 277.58 99.2 277.63 133.9 277.69 109.2 277.71 129.4 277.78 77.6 277.82 132.9 277.89 112.5 277.91 126.5 277.96 131.1 278.03 108.8 278.06 104.8 278.12 121.6 278.18 129.7 278.21 130.4 278.26 137.9 278.34 119.7 278.39 104.9 278.44 148.4 278.48 148.4 278.53 104.4 278.56 140.5 278.61 117.2 278.66 136.3 278.73 111.8 278.77 111.8 278.81 119.1 278.86 111.3 278.93 77.6 278.96 114.4 279.03 69.7 279.07 142.9 279.12 118.1 279.19 125.1 279.24 125.1 279.27 88.8 279.33 145.8 279.37 148.4 279.41 104.7 279.49 108.1 279.51 104.3 279.56 137.8 279.61 133.7 279.69 112.6 279.74 124.8 279.78 98.0 279.83 117.8 279.88 118.2 279.92 115.0 279.99 124.5 280.03 133.2 280.08 92.3 280.12 101.4 280.16 118.8 280.24 124.8 280.29 116.7 280.34 119.6 280.37 104.3 280.41 133.9 280.49 120.4 280.53 131.4 280.58 102.8 280.61 95.9 280.66 121.9 280.74 113.3 280.79 101.4 280.82 124.8 280.89 69.4 280.91 106.4 280.98 150.1 281.02 130.1 281.06 128.1 281.13 128.4 281.18 120.3 281.22 109.0 281.28 135.1 281.32 137.7 281.39 141.0 281.42 108.8 281.47 155.2 281.54 137.6 281.58 138.7 281.64 119.5 281.66 109.0 281.74 109.8 281.76 118.8 281.83 113.4 281.88 91.1 281.91 126.9 281.97 100.1 282.04 106.7 282.06 130.5 282.11 97.0 282.18 125.7 282.24 97.0 282.26 104.0 282.32 134.2 282.36 97.0 282.41 97.0 282.47 105.0 282.53 187.4 282.58 117.3 282.61 117.4 282.67 132.3 282.72 123.5 282.79 130.6 282.82 127.0 282.88 113.3 282.92 135.2 282.99 109.3 283.01 135.8 283.07 149.7 283.11 97.0 283.16 138.8 283.22 112.2 283.29 98.2 283.34 154.7 283.39 140.3 283.41 115.7 283.46 101.4 283.54 115.7 283.58 115.4 283.61 187.4 283.67 111.6 283.74 97.0 283.79 111.0 283.84 139.6 283.87 127.7 283.91 117.2 283.98 133.0 284.02 108.5 284.08 113.8 284.11 139.3 284.18 80.1 284.23 126.4 284.28 123.0 284.33 112.8 284.36 127.1 284.41 142.9 284.46 105.2 284.51 140.7 284.59 124.9 284.61 115.9 284.67 134.3 284.73 127.7 284.77 135.0 284.84 119.2 284.89 127.6 284.92 112.5 284.98 109.9 285.03 119.1 285.09 105.7 285.11 127.9 285.16 110.6 285.21 133.9 285.29 126.2 285.32 124.1 285.38 150.3 285.43 132.1 285.49 102.4 285.54 142.5 285.57 123.0 285.61 106.9 285.67 110.2 285.72 135.7 285.77 138.9 285.83 63.0 285.89 139.5 285.94 111.9 285.96 128.4 286.03 111.6 286.08 60.5 286.12 149.4 286.18 117.4 286.23 128.5 286.26 102.8 286.33 100.1 286.37 86.5 286.44 109.8 286.49 108.2 286.51 136.5 286.57 119.5 286.63 139.6 286.66 107.0 286.74 139.0 286.78 124.0 286.84 133.3 286.87 127.9 286.93 149.4 286.98 129.4 287.02 117.7 287.09 136.0 287.14 82.8 287.18 102.6 287.23 101.3 287.26 127.9 287.32 110.0 287.38 112.0 287.44 149.2 287.48 110.5 287.54 123.9 287.58 98.6 287.64 98.2 287.69 131.7 287.71 131.1 287.76 117.4 287.84 64.6 287.87 164.0 287.92 122.7 287.97 110.2 288.04 77.8 288.06 164.0 288.14 154.8 288.17 107.0 288.23 76.0 288.26 137.3 288.33 64.6 288.39 121.9 288.41 103.5 288.49 130.6 288.51 125.5 288.56 142.1 288.64 139.1 288.68 158.0 288.71 101.0 288.78 140.7 288.83 114.4 288.89 115.1 288.94 132.1 288.99 64.6 289.02 126.4 289.07 142.2 289.14 106.2 289.16 124.0 289.24 142.2 289.27 94.5 289.34 116.3 289.39 135.5 289.44 123.5 289.48 122.0 289.53 140.8 289.56 115.8 289.62 117.8 289.68 119.4 289.72 130.3 289.78 127.4 289.83 126.8 289.88 117.4 289.94 129.7 289.97 109.2 290.01 150.8 290.08 133.0 290.12 133.8 290.18 107.2 290.24 106.9 290.26 114.3 290.33 110.8 290.39 112.2 290.44 122.5 290.46 157.4 290.51 163.1 290.57 163.1 290.64 122.0 290.66 125.5 290.74 163.1 290.78 116.9 290.81 125.6 290.88 140.2 290.92 149.8 290.96 55.7 291.04 129.5 291.06 128.2 291.13 144.3 291.17 149.1 291.22 107.9 291.29 105.8 291.33 112.4 291.38 108.5 291.42 130.6 291.49 128.8 291.53 102.6 291.58 114.4 291.64 133.9 291.69 113.6 291.71 108.5 291.77 61.0 291.84 119.8 291.88 129.5 291.94 115.2 291.97 95.0 292.01 131.4 292.07 135.2 292.14 101.8 292.17 132.0 292.21 119.7 292.27 113.4 292.32 108.9 292.38 121.4 292.44 140.6 292.48 104.2 292.53 129.0 292.58 154.1 292.64 87.2 292.67 106.5 292.72 139.7 292.79 129.8 292.84 57.3 292.88 134.4 292.94 154.1 292.98 107.8 293.03 107.5 293.07 57.3 293.11 144.2 293.17 95.0 293.22 125.8 293.29 139.6 293.33 154.1 293.38 132.2 293.44 131.5 293.48 132.4 293.54 123.2 293.56 130.2 293.61 150.8 293.69 112.8 293.73 130.6 293.77 101.3 293.81 112.6 293.86 111.2 293.92 118.6 293.99 99.6 294.04 93.3 294.07 89.2 294.11 178.6 294.17 130.5 294.24 144.6 294.27 111.9 294.34 108.6 294.36 110.7 294.43 144.3 294.47 135.7 294.53 147.9 294.57 151.2 294.63 146.4 294.68 150.7 294.73 125.1 294.77 114.1 294.81 110.4 294.89 74.5 294.91 134.1 294.97 122.0 295.01 115.1 295.07 79.6 295.12 144.5 295.16 101.4 295.21 55.4 295.27 117.3 295.31 107.4 295.37 112.9 295.41 114.9 295.46 125.2 295.51 122.0 295.59 119.4 295.64 102.1 295.69 146.2 295.74 130.0 295.78 142.5 295.82 137.8 295.88 135.1 295.93 103.7 295.99 149.9 296.04 108.2 296.06 116.7 296.14 117.1 296.16 97.7 296.22 122.0 296.28 143.7 296.32 147.3 296.37 124.9 296.42 127.4 296.49 114.7 296.52 103.7 296.56 122.3 296.62 99.3 296.68 129.3 296.73 112.3 296.79 137.9 296.83 120.3 296.89 125.9 296.94 124.5 296.97 170.2 297.04 98.5 297.06 114.6 297.12 160.2 297.19 129.4 297.21 107.9 297.28 121.1 297.34 137.8 297.38 116.8 297.41 124.1 297.46 103.7 297.52 127.2 297.56 121.4 297.63 119.4 297.67 142.4 297.72 116.4 297.79 132.6 297.83 106.8 297.89 104.0 297.91 122.0 297.97 139.0 298.01 121.0 298.09 122.2 298.13 116.2 298.16 123.8 298.24 123.4 298.28 131.1 298.32 118.0 298.38 98.5 298.43 160.2 298.47 122.1 298.53 124.3 298.59 113.4 298.64 122.8 298.69 121.0 298.71 122.5 298.79 129.7 298.84 131.8 298.87 129.4 298.94 109.7 298.96 128.6 299.01 115.2 299.08 107.4 299.12 142.3 299.19 121.7 299.21 123.3 299.29 111.2 299.34 122.3 299.38 135.5 299.43 124.0 299.48 133.0 299.54 160.7 299.56 121.4 299.64 127.1 299.67 118.9 299.72 138.2 299.79 99.0 299.81 99.0 299.86 114.2 299.93 135.8 299.98 145.0 300.02 146.5 300.09 185.0 300.13 87.6 300.19 126.7 300.21 124.1 300.29 118.1 300.32 104.0 300.36 99.5 300.43 120.0 300.46 127.6 300.53 122.5 300.58 116.8 300.61 99.7 300.66 119.6 300.71 91.1 300.78 136.4 300.83 112.9 300.89 87.6 300.92 100.1 300.96 116.3 301.02 122.3 301.06 124.8 301.11 106.3 301.17 139.2 301.21 117.3 301.29 107.7 301.34 142.6 301.39 87.8 301.41 138.9 301.49 116.4 301.54 106.3 301.59 148.6 301.63 118.9 301.66 129.2 301.72 118.8 301.77 109.9 301.81 123.8 301.86 123.4 301.94 117.8 301.97 113.2 302.02 184.0 302.08 106.2 302.11 98.6 302.18 122.3 302.21 114.7 302.29 145.3 302.34 158.3 302.37 130.9 302.44 126.0 302.48 146.4 302.53 120.4 302.58 116.8 302.63 111.4 302.69 96.8 302.74 90.8 302.76 127.8 302.81 120.2 302.89 112.1 302.93 138.8 302.98 100.3 303.02 90.8 303.09 104.8 303.12 130.4 303.18 116.7 303.22 132.4 303.29 90.8 303.31 105.0 303.36 184.0 303.41 109.0 303.47 110.4 303.53 119.2 303.57 125.5 303.64 111.8 303.68 119.0 303.73 124.1 303.77 144.0 303.81 126.6 303.88 111.8 303.91 129.2 303.96 115.9 304.02 91.4 304.07 133.0 304.14 99.0 304.19 124.4 304.21 100.7 304.27 127.5 304.33 102.9 304.37 123.5 304.44 126.8 304.46 121.7 304.54 118.3 304.58 132.5 304.63 147.6 304.68 88.7 304.72 128.8 304.77 156.2 304.81 164.9 304.89 72.2 304.92 182.5 304.96 95.1 305.02 123.4 305.09 146.2 305.11 109.5 305.17 131.0 305.23 127.3 305.27 118.5 305.31 120.2 305.37 172.0 305.43 130.0 305.49 98.1 305.51 117.8 305.56 121.0 305.64 112.6 305.68 124.7 305.72 105.8 305.77 130.5 305.82 140.0 305.88 121.9 305.94 106.1 305.97 128.0 306.04 124.1 306.07 124.8 306.11 103.5 306.16 120.9 306.23 129.7 306.28 133.4 306.32 122.1 306.36 107.9 306.44 128.7 306.48 134.5 306.51 109.7 306.59 120.6 306.61 121.7 306.69 95.0 306.74 136.7 306.76 118.9 306.84 143.2 306.89 143.2 306.91 114.0 306.98 71.0 307.03 115.6 307.07 127.5 307.13 134.5 307.18 104.7 307.21 124.1 307.26 118.1 307.33 108.1 307.38 139.5 307.44 134.2 307.48 171.6 307.51 123.5 307.56 135.9 307.64 124.9 307.68 129.3 307.71 138.5 307.77 127.0 307.81 121.6 307.89 91.8 307.93 113.8 307.99 145.5 308.01 171.6 308.09 124.5 308.12 126.3 308.19 119.4 308.21 104.9 308.27 91.8 308.33 127.9 308.39 134.3 308.41 132.4 308.49 107.6 308.53 118.2 308.56 117.2 308.61 114.6 308.69 116.1 308.73 123.0 308.78 135.8 308.82 129.9 308.86 119.6 308.92 115.9 308.98 126.5 309.02 112.4 309.07 91.1 309.12 127.5 309.16 119.9 309.22 113.9 309.28 125.9 309.33 99.0 309.37 106.7 309.42 103.5 309.46 120.3 309.51 127.2 309.56 127.5 309.63 127.6 309.69 66.7 309.73 114.8 309.77 106.8 309.83 121.4 309.86 168.6 309.91 120.5 309.96 117.2 310.03 132.4 310.07 141.9 310.11 114.6 310.18 108.1 310.24 125.5 310.26 123.2 310.31 99.0 310.37 124.9 310.44 119.6 310.47 176.4 310.52 127.6 310.59 131.9 310.63 128.3 310.69 110.8 310.73 127.0 310.78 102.1 310.82 124.6 310.88 103.2 310.94 137.3 310.96 130.7 311.01 125.2 311.07 133.5 311.11 129.1 311.17 84.7 311.22 110.4 311.29 120.4 311.32 135.2 311.38 121.6 311.41 136.1 311.47 150.6 311.51 107.9 311.59 108.4 311.61 138.1 311.68 150.6 311.74 119.2 311.79 125.9 311.83 131.2 311.86 127.3 311.94 124.3 311.98 127.8 312.01 126.0 312.09 117.7 312.12 125.9 312.16 53.7 312.22 118.3 312.26 110.6 312.31 90.8 312.37 140.1 312.41 184.6 312.48 131.3 312.51 106.5 312.57 117.8 312.64 127.9 312.67 164.9 312.74 85.5 312.76 138.2 312.84 138.9 312.86 97.8 312.94 119.7 312.99 79.1 313.03 80.8 313.09 145.5 313.12 120.6 313.17 138.6 313.23 127.7 313.27 53.7 313.31 122.4 313.38 136.6 313.42 74.9 313.46 124.9 313.52 125.5 313.59 96.9 313.61 121.2 313.69 125.9 313.73 100.5 313.79 184.6 313.83 104.9 313.88 98.7 313.94 106.8 313.96 125.4 314.03 100.4 314.07 140.5 314.14 100.8 314.17 114.6 314.21 73.4 314.28 181.4 314.33 147.5 314.39 142.0 314.43 125.4 314.46 114.2 314.52 125.1 314.56 160.3 314.61 127.0 314.69 123.1 314.74 75.4 314.79 96.7 314.81 119.4 314.87 141.4 314.94 115.4 314.99 142.7 315.03 127.1 315.08 129.1 315.11 145.9 315.16 138.7 315.22 126.3 315.26 99.8 315.31 112.3 315.37 127.2 315.41 94.6 315.48 140.9 315.53 115.2 315.57 125.0 315.63 114.3 315.66 125.7 315.73 133.7 315.79 118.6 315.84 140.7 315.86 114.1 315.92 59.9 315.98 108.4 316.03 108.8 316.08 124.8 316.13 108.2 316.16 115.3 316.22 134.6 316.28 55.0 316.33 155.0 316.36 121.8 316.44 127.7 316.47 134.1 316.51 105.4 316.56 139.6 316.64 106.8 316.68 129.8 316.72 119.9 316.76 140.5 316.84 121.9 316.86 134.9 316.93 151.0 316.98 122.1 317.01 128.4 317.08 133.0 317.12 142.0 317.18 120.0 317.24 127.3 317.26 124.4 317.31 101.1 317.37 114.7 317.43 130.3 317.49 114.8 317.53 140.1 317.58 142.0 317.61 118.6 317.68 124.2 317.72 114.9 317.76 69.8 317.84 127.5 317.89 133.8 317.93 96.2 317.96 121.6 318.03 134.0 318.09 114.3 318.12 116.3 318.19 127.3 318.23 142.0 318.29 131.0 318.34 126.7 318.38 134.3 318.42 116.2 318.48 105.2 318.54 130.1 318.59 107.3 318.63 142.0 318.67 132.7 318.71 134.2 318.76 69.8 318.83 129.1 318.87 112.4 318.93 142.0 318.98 120.5 319.03 125.9 319.07 143.7 319.14 144.7 319.17 117.6 319.21 123.2 319.26 161.2 319.32 153.9 319.37 126.5 319.44 122.9 319.49 178.5 319.52 140.4 319.57 113.1 319.61 126.5 319.66 129.5 319.73 124.0 319.76 107.2 319.84 90.5 319.87 108.6 319.93 132.2 319.98 126.1 320.01 143.0 320.07 182.3 320.11 122.9 320.18 143.2 320.23 145.8 320.27 135.1 320.33 128.4 320.36 131.0 320.41 106.6 320.47 71.5 320.51 114.3 320.59 94.3 320.64 105.1 320.66 143.3 320.74 177.5 320.78 106.0 320.84 112.6 320.89 132.9 320.94 97.8 320.99 129.5 321.04 98.0 321.07 121.3 321.14 124.7 321.16 137.9 321.23 98.0 321.29 119.3 321.32 134.5 321.38 115.9 321.43 185.6 321.46 111.7 321.52 98.0 321.58 104.6 321.62 115.3 321.66 122.4 321.71 113.7 321.79 103.8 321.82 109.1 321.88 106.2 321.93 118.6 321.97 110.5 322.01 168.2 322.06 129.5 322.12 135.2 322.18 117.3 322.21 99.6 322.29 126.8 322.33 148.1 322.39 133.2 322.41 88.9 322.48 136.8 322.54 100.1 322.57 126.3 322.63 108.3 322.67 123.8 322.73 150.9 322.78 129.5 322.84 83.1 322.89 60.2 322.94 111.5 322.98 128.1 323.02 122.8 323.06 168.2 323.11 133.3 323.16 153.3 323.22 152.0 323.27 134.3 323.32 126.0 323.36 103.5 323.41 60.2 323.48 90.4 323.52 114.6 323.59 87.3 323.64 124.0 323.67 131.5 323.72 79.4 323.79 141.4 323.81 129.4 323.89 126.7 323.92 95.0 323.96 132.7 324.01 170.6 324.08 126.2 324.13 113.8 324.17 141.1 324.24 116.8 324.29 130.0 324.31 144.5 324.36 99.2 324.41 149.7 324.48 101.7 324.51 130.1 324.57 140.7 324.61 139.6 324.69 136.6 324.73 138.8 324.78 52.3 324.83 159.3 324.87 96.8 324.91 105.0 324.96 93.9 325.02 107.8 325.07 126.2 325.14 171.1 325.16 57.5 325.22 116.6 325.26 112.1 325.34 144.7 325.38 121.3 325.44 98.3 325.47 104.3 325.53 115.0 325.59 131.6 325.61 133.5 325.69 113.2 325.74 94.3 325.77 120.8 325.84 96.4 325.89 127.4 325.91 98.4 325.99 140.9 326.01 128.9 326.06 120.3 326.12 133.8 326.19 166.1 326.21 120.6 326.29 126.3 326.31 115.5 326.37 120.9 326.41 137.8 326.49 148.6 326.51 110.1 326.59 128.5 326.63 104.5 326.67 121.6 326.72 130.6 326.76 115.2 326.83 124.9 326.88 121.6 326.92 132.6 326.99 97.5 327.04 126.4 327.06 129.0 327.11 121.4 327.16 106.0 327.21 117.7 327.26 115.0 327.34 146.2 327.37 127.9 327.44 107.8 327.46 136.4 327.53 129.1 327.56 138.2 327.62 83.1 327.69 129.4 327.73 134.1 327.78 111.2 327.83 103.0 327.87 183.4 327.93 105.0 327.97 118.1 328.02 112.2 328.09 111.6 328.14 119.8 328.17 183.4 328.23 129.6 328.26 141.9 328.34 126.2 328.36 120.2 328.43 96.6 328.47 97.8 328.51 110.3 328.56 105.6 328.64 117.9 328.66 83.1 328.72 95.8 328.76 83.1 328.82 115.3 328.89 114.8 328.91 83.1 328.98 118.6 329.03 105.5 329.09 135.3 329.13 84.2 329.17 143.2 329.23 93.8 329.28 113.8 329.31 151.8 329.37 148.1 329.41 115.1 329.46 119.9 329.53 126.3 329.59 113.2 329.62 93.4 329.69 116.7 329.72 147.5 329.79 124.2 329.81 140.5 329.87 133.3 329.94 167.7 329.99 124.3 330.02 136.3 330.08 131.6 330.12 134.1 330.16 103.4 330.24 94.4 330.28 133.1 330.34 120.0 330.39 107.3 330.44 139.6 330.47 138.1 330.52 120.8 330.56 118.6 330.62 136.7 330.68 140.7 330.74 155.3 330.79 114.3 330.83 122.5 330.88 114.4 330.92 123.2 330.98 122.4 331.02 108.4 331.09 98.5 331.14 163.2 331.16 129.9 331.24 68.7 331.28 132.1 331.32 127.9 331.37 141.1 331.44 102.6 331.46 106.1 331.52 129.7 331.56 127.3 331.62 121.7 331.69 119.1 331.74 108.7 331.76 121.2 331.81 115.9 331.88 146.4 331.91 127.2 331.96 151.1 332.02 60.2 332.06 126.1 332.13 118.7 332.16 135.7 332.24 113.1 332.27 133.4 332.33 126.9 332.37 123.9 332.42 140.9 332.49 126.8 332.54 130.2 332.57 112.6 332.64 128.9 332.67 119.7 332.71 140.9 332.76 118.3 332.82 122.7 332.87 140.1 332.91 103.8 332.98 125.7 333.04 104.9 333.08 117.1 333.13 120.5 333.18 117.6 333.22 124.7 333.26 136.9 333.33 140.9 333.38 110.1 333.44 118.9 333.47 109.2 333.51 104.8 333.59 125.2 333.61 114.4 333.66 60.2 333.73 113.6 333.79 126.0 333.84 89.1 333.88 127.4 333.92 115.4 333.96 116.1 334.01 141.4 334.09 120.3 334.13 147.5 334.18 47.6 334.24 142.0 334.27 128.3 334.32 83.1 334.38 138.1 334.42 147.6 334.48 164.8 334.51 130.2 334.56 127.9 334.61 119.6 334.69 153.5 334.74 139.0 334.79 171.0 334.83 119.2 334.89 172.6 334.91 172.6 334.97 98.1 335.01 100.9 335.07 130.2 335.14 130.5 335.17 147.2 335.24 118.6 335.27 107.5 335.34 131.6 335.37 126.3 335.44 146.4 335.47 95.4 335.52 134.7 335.56 125.7 335.64 89.9 335.66 127.0 335.74 152.8 335.77 140.7 335.84 171.2 335.88 87.9 335.94 56.9 335.98 127.0 336.02 143.4 336.06 135.9 336.13 118.9 336.18 133.5 336.24 130.0 336.29 125.8 336.34 118.1 336.36 109.4 336.44 109.3 336.48 105.0 336.54 118.8 336.59 131.5 336.61 149.2 336.67 60.1 336.73 135.8 336.78 153.1 336.84 94.4 336.86 153.5 336.93 116.3 336.97 158.9 337.02 122.6 337.06 137.0 337.12 106.2 337.18 109.1 337.22 153.9 337.29 153.5 337.32 140.3 337.38 144.1 337.41 116.2 337.47 93.5 337.54 93.6 337.59 110.6 337.61 120.4 337.69 105.0 337.74 135.3 337.76 178.3 337.84 121.7 337.86 108.5 337.93 145.9 337.99 109.1 338.03 105.8 338.06 154.8 338.13 93.5 338.17 142.1 338.23 113.7 338.29 108.9 338.31 122.3 338.37 111.3 338.42 123.8 338.47 148.0 338.53 93.5 338.56 105.5 338.64 130.3 338.69 147.1 338.71 178.3 338.77 117.5 338.82 117.8 338.87 106.0 338.91 114.0 338.98 114.8 339.04 128.4 339.07 159.5 339.13 128.1 339.16 167.0 339.21 61.7 339.28 125.5 339.33 86.6 339.39 128.6 339.43 101.2 339.48 99.4 339.53 81.9 339.57 174.0 339.62 107.3 339.68 151.8 339.71 143.8 339.77 127.5 339.81 122.6 339.86 145.9 339.92 130.2 339.97 108.4 340.03 155.2 340.07 118.1 340.14 133.5 340.16 155.2 340.23 113.7 340.29 124.8 340.33 126.8 340.39 132.6 340.44 155.2 340.49 94.4 340.54 130.3 340.58 112.8 340.63 97.8 340.69 102.4 340.74 118.4 340.79 121.8 340.81 116.6 340.86 106.2 340.92 55.9 340.98 129.7 341.04 120.8 341.06 122.3 341.12 143.5 341.19 132.6 341.23 90.1 341.29 106.3 341.32 134.2 341.39 120.8 341.43 115.9 341.48 100.9 341.52 125.8 341.57 130.7 341.62 121.9 341.66 103.2 341.71 121.3 341.77 119.4 341.84 105.4 341.87 141.8 341.93 142.1 341.99 113.5 342.04 105.1 342.07 141.6 342.11 146.0 342.19 71.3 342.23 124.1 342.27 120.4 342.32 116.3 342.39 122.3 342.43 133.4 342.47 119.2 342.51 117.4 342.58 115.5 342.61 96.1 342.66 146.0 342.74 121.0 342.78 114.6 342.81 127.7 342.87 137.5 342.92 129.3 342.98 108.1 343.04 146.0 343.08 136.6 343.13 137.9 343.17 139.4 343.21 123.2 343.28 117.8 343.31 88.9 343.37 115.0 343.41 121.7 343.49 103.4 343.52 71.3 343.58 117.5 343.61 109.2 343.68 111.7 343.72 116.6 343.76 126.4 343.82 138.1 343.86 123.9 343.93 129.6 343.98 112.9 344.04 148.3 344.06 126.8 344.14 118.5 344.19 68.1 344.21 109.3 344.27 112.4 344.33 129.6 344.39 137.2 344.41 132.8 344.49 128.5 344.54 121.8 344.58 123.1 344.64 106.6 344.69 123.3 344.71 96.9 344.79 107.5 344.84 128.6 344.88 109.9 344.91 148.3 344.99 102.7 345.04 94.7 345.07 111.6 345.13 110.4 345.18 132.5 345.23 113.7 345.28 112.1 345.32 134.1 345.37 138.8 345.42 133.2 345.46 100.5 345.54 69.5 345.57 108.2 345.61 117.7 345.68 120.2 345.74 118.7 345.78 127.9 345.82 104.0 345.89 119.4 345.93 153.7 345.98 142.1 346.02 130.7 346.09 120.3 346.11 130.6 346.16 129.0 346.22 131.8 346.26 124.5 346.32 128.1 346.36 118.0 346.44 119.5 346.48 132.0 346.52 100.3 346.58 135.1 346.62 117.9 346.69 97.4 346.72 130.0 346.76 107.0 346.84 105.9 346.89 95.2 346.93 142.8 346.96 160.1 347.02 103.0 347.06 66.9 347.14 109.1 347.18 150.7 347.24 96.1 347.28 113.2 347.32 111.8 347.38 129.5 347.43 120.8 347.48 135.2 347.54 110.6 347.57 148.4 347.64 102.5 347.67 111.1 347.72 81.5 347.78 122.7 347.84 123.8 347.88 118.1 347.91 181.8 347.97 124.1 348.01 103.5 348.06 150.2 348.14 142.8 348.16 129.3 348.24 121.7 348.29 125.6 348.34 139.1 348.38 82.7 348.42 66.9 348.49 116.2 348.53 108.3 348.56 118.4 348.63 126.5 348.67 133.0 348.71 154.5 348.77 92.1 348.84 140.3 348.88 155.1 348.92 138.0 348.99 181.8 349.02 115.6 349.07 106.6 349.13 149.9 349.17 113.6 349.24 148.4 349.29 120.7 349.33 96.4 349.36 120.6 349.41 114.9 349.49 126.6 349.52 122.0 349.58 87.6 349.64 102.4 349.68 126.5 349.73 127.5 349.77 121.6 349.81 68.4 349.86 118.9 349.91 105.7 349.97 152.5 350.03 147.9 350.06 87.0 350.13 58.8 350.19 164.3 350.22 144.9 350.28 150.1 350.31 116.9 350.38 99.5 350.42 142.6 350.48 108.9 350.53 127.7 350.57 97.7 350.61 93.2 350.69 115.4 350.74 106.8 350.77 122.0 350.82 129.7 350.89 146.3 350.94 115.0 350.97 180.4 351.02 94.9 351.07 146.2 351.13 138.0 351.19 141.0 351.21 104.8 351.27 170.1 351.31 142.5 351.37 82.6 351.43 109.4 351.48 147.2 351.53 123.0 351.59 170.6 351.62 111.4 351.67 126.1 351.71 59.8 351.77 106.0 351.83 122.0 351.88 106.5 351.93 114.3 351.98 130.8 352.02 107.1 352.09 126.5 352.12 152.4 352.19 83.6 352.23 125.8 352.28 178.4 352.32 158.3 352.38 141.4 352.42 133.8 352.48 125.3 352.54 118.3 352.59 135.2 352.64 146.5 352.67 117.0 352.72 127.3 352.78 107.5 352.84 130.4 352.88 111.4 352.91 136.4 352.99 117.5 353.02 120.6 353.08 157.6 353.11 135.8 353.16 129.3 353.21 133.8 353.29 119.8 353.33 150.9 353.39 109.8 353.44 109.3 353.47 116.1 353.51 127.2 353.56 121.8 353.63 129.4 353.68 103.3 353.74 113.6 353.78 89.6 353.81 127.8 353.87 98.3 353.92 178.4 353.96 83.6 354.01 119.0 354.07 137.3 354.11 116.2 354.17 118.3 354.23 103.9 354.28 158.1 354.34 136.5 354.37 123.0 354.42 146.7 354.48 103.5 354.52 154.3 354.56 135.1 354.64 145.5 354.67 132.3 354.74 63.9 354.77 112.1 354.84 106.9 354.89 112.1 354.92 154.4 354.96 116.9 355.01 120.4 355.08 111.3 355.11 136.6 355.16 140.1 355.24 130.0 355.26 140.1 355.32 86.3 355.36 125.0 355.44 107.1 355.49 109.7 355.54 91.8 355.57 120.1 355.64 112.5 355.69 56.6 355.74 134.1 355.76 136.1 355.82 132.9 355.88 101.5 355.92 117.7 355.99 124.0 356.04 124.8 356.07 126.5 356.12 107.1 356.18 113.4 356.24 81.6 356.27 102.7 356.33 55.4 356.38 139.5 356.44 131.6 356.46 105.6 356.53 119.5 356.56 106.9 356.62 192.7 356.68 136.1 356.71 81.8 356.78 94.9 356.84 157.9 356.88 136.0 356.94 121.0 356.98 105.7 357.03 122.3 357.09 132.3 357.14 113.3 357.19 129.3 357.23 133.7 357.27 114.1 357.33 112.6 357.36 151.0 357.41 111.1 357.46 111.6 357.51 126.9 357.57 101.6 357.62 122.2 357.69 119.4 357.74 91.9 357.79 115.3 357.83 127.9 357.86 117.2 357.91 138.8 357.99 110.0 358.04 120.5 358.07 115.7 358.12 113.6 358.19 115.5 358.24 126.9 358.26 131.0 358.31 114.6 358.39 151.0 358.42 117.9 358.47 123.3 358.51 91.9 358.57 121.7 358.64 135.2 358.69 118.6 358.71 116.4 358.78 113.7 358.81 130.4 358.88 128.9 358.94 118.1 358.97 125.9 359.03 112.6 359.09 117.3 359.11 98.7 359.18 120.6 359.21 112.8 359.29 114.9 359.32 146.4 359.38 122.3 359.42 120.1 359.47 104.9 359.54 121.4 359.56 107.6 359.61 114.3 359.67 124.6 359.74 132.4 359.79 116.0 359.83 126.8 359.86 126.8 359.92 135.1 359.98 111.5 360.01 67.5 360.07 81.2 360.11 94.5 360.18 120.5 360.24 114.1 360.26 176.0 360.31 117.5 360.37 126.1 360.41 138.2 360.47 144.6 360.52 84.6 360.58 118.4 360.63 138.7 360.69 127.7 360.73 92.7 360.79 90.3 360.84 131.2 360.87 116.4 360.91 103.7 360.96 126.3 361.03 142.5 361.09 131.9 361.13 138.8 361.17 131.9 361.23 170.9 361.27 113.2 361.31 106.7 361.38 107.1 361.42 89.3 361.49 127.3 361.53 120.8 361.59 113.6 361.61 132.0 361.66 124.5 361.72 114.9 361.79 132.7 361.82 114.1 361.88 103.7 361.92 89.3 361.97 152.1 362.03 136.1 362.08 50.0 362.13 117.0 362.18 108.4 362.23 101.2 362.28 134.3 362.31 137.6 362.38 128.7 362.41 149.6 362.47 110.3 362.51 123.4 362.58 121.4 362.63 114.5 362.67 129.5 362.73 103.1 362.78 149.6 362.83 117.7 362.87 113.3 362.91 134.6 362.99 133.4 363.03 149.6 363.07 136.8 363.14 125.7 363.18 119.6 363.24 118.8 363.26 88.1 363.32 111.0 363.38 112.1 363.43 130.2 363.47 108.9 363.54 110.4 363.57 110.8 363.64 124.0 363.69 111.6 363.71 96.4 363.78 149.6 363.84 149.6 363.86 108.3 363.93 50.0 363.98 126.0 364.03 52.8 364.08 113.5 364.12 151.5 364.17 143.0 364.22 152.0 364.29 145.0 364.32 103.1 364.36 129.0 364.43 119.7 364.49 117.2 364.52 124.8 364.56 109.3 364.63 133.5 364.68 116.2 364.73 102.3 364.76 118.7 364.81 120.2 364.89 127.8 364.93 121.3 364.97 111.0 365.03 115.4 365.07 81.0 365.11 151.0 365.16 124.8 365.21 123.1 365.27 136.8 365.33 135.6 365.36 109.9 365.44 123.9 365.48 130.3 365.52 132.5 365.57 119.6 365.61 120.8 365.68 125.3 365.71 145.9 365.77 128.7 365.83 133.0 365.88 121.3 365.92 182.3 365.98 106.5 366.01 132.7 366.07 130.0 366.13 119.0 366.19 111.9 366.23 134.3 366.28 152.1 366.34 110.1 366.37 113.3 366.42 110.7 366.49 132.6 366.52 124.4 366.58 119.9 366.63 117.6 366.69 123.5 366.73 122.8 366.79 111.5 366.81 87.4 366.87 128.1 366.93 126.9 366.96 127.7 367.01 124.7 367.06 124.3 367.12 122.5 367.19 115.8 367.24 127.0 367.28 99.3 367.31 139.4 367.36 112.8 367.41 114.7 367.46 140.0 367.51 112.8 367.56 113.9 367.63 132.3 367.67 87.0 367.72 111.6 367.77 127.5 367.84 129.8 367.87 171.6 367.91 118.5 367.97 77.2 368.04 101.6 368.07 140.8 368.14 122.7 368.16 139.2 368.21 171.6 368.29 115.3 368.34 112.6 368.37 120.2 368.44 143.6 368.46 118.8 368.51 108.9 368.59 107.4 368.64 89.9 368.68 113.9 368.72 138.0 368.78 130.4 368.81 121.2 368.87 106.6 368.94 77.2 368.96 108.6 369.01 121.6 369.07 145.8 369.14 109.2 369.19 132.6 369.24 102.0 369.27 129.3 369.34 108.7 369.37 119.8 369.41 107.4 369.49 122.1 369.51 145.8 369.57 131.6 369.64 142.2 369.68 110.4 369.74 67.1 369.78 122.3 369.82 116.6 369.87 119.9 369.93 129.7 369.98 97.6 370.01 176.7 370.06 117.8 370.13 122.3 370.18 113.6 370.21 141.5 370.26 101.8 370.31 137.5 370.38 121.6 370.44 115.5 370.49 107.0 370.52 110.4 370.58 110.8 370.61 105.5 370.66 124.4 370.73 112.4 370.77 102.0 370.82 94.9 370.86 140.8 370.93 135.6 370.99 103.6 371.04 135.1 371.06 120.4 371.12 125.2 371.17 113.2 371.24 135.5 371.28 124.1 371.34 119.3 371.37 127.0 371.44 145.3 371.48 134.0 371.51 135.0 371.57 125.8 371.64 113.4 371.67 125.3 371.71 128.3 371.76 113.7 371.82 119.7 371.88 127.6 371.91 81.0 371.96 124.6 372.01 131.4 372.09 125.5 372.11 116.8 372.19 111.2 372.24 93.3 372.27 115.2 372.33 109.8 372.36 107.7 372.41 117.8 372.47 114.5 372.51 127.2 372.56 123.1 372.61 116.1 372.68 134.6 372.73 131.1 372.79 119.9 372.81 137.3 372.89 121.5 372.93 163.2 372.96 119.9 373.02 104.3 373.06 100.5 373.13 163.2 373.19 129.0 373.22 104.9 373.27 111.0 373.32 115.9 373.37 122.3 373.42 114.9 373.48 129.3 373.53 93.6 373.58 135.3 373.61 142.6 373.69 93.3 373.72 105.7 373.77 127.7 373.83 122.7 373.89 133.8 373.91 123.0 373.99 133.7 374.03 129.2 374.08 118.1 374.11 127.2 374.17 125.0 374.21 138.9 374.26 110.8 374.32 141.6 374.36 106.6 374.41 136.4 374.46 128.1 374.53 116.3 374.57 120.8 374.61 130.2 374.69 123.8 374.74 138.0 374.78 66.9 374.83 141.6 374.88 120.0 374.91 105.6 374.98 111.2 375.02 155.3 375.09 164.8 375.11 139.2 375.16 146.0 375.22 132.3 375.29 122.8 375.33 145.6 375.37 115.9 375.43 99.4 375.46 103.2 375.52 87.3 375.59 102.5 375.61 122.8 375.66 91.2 375.72 109.9 375.76 89.6 375.83 125.5 375.87 158.8 375.93 142.5 375.96 58.5 376.04 105.4 376.09 115.8 376.11 146.2 376.16 136.3 376.23 81.2 376.29 104.9 376.34 120.3 376.36 106.2 376.42 129.4 376.48 142.2 376.54 178.1 376.57 81.2 376.61 115.8 376.66 125.0 376.73 103.0 376.76 139.5 376.83 125.2 376.88 144.6 376.93 114.2 376.98 117.9 377.04 143.8 377.09 112.1 377.14 118.1 377.19 121.6 377.22 119.8 377.26 81.4 377.33 126.6 377.37 141.1 377.42 123.7 377.48 111.8 377.54 125.8 377.58 131.1 377.62 112.7 377.66 120.2 377.74 120.4 377.78 117.1 377.81 114.8 377.89 122.3 377.91 130.3 377.96 104.2 378.04 119.2 378.07 125.4 378.11 126.4 378.16 131.6 378.22 126.6 378.27 139.6 378.32 118.6 378.38 143.8 378.43 114.1 378.46 122.2 378.51 109.5 378.56 117.2 378.63 112.2 378.67 117.9 378.73 121.5 378.77 129.5 378.83 143.8 378.89 81.4 378.93 123.0 378.96 101.8 379.02 112.4 379.07 98.7 379.12 138.7 379.17 110.5 379.22 123.1 379.27 116.0 379.31 137.1 379.37 73.0 379.44 119.8 379.49 103.5 379.51 94.3 379.56 117.8 379.63 126.5 379.68 93.3 379.71 123.1 379.77 122.5 379.83 120.5 379.88 115.8 379.93 152.3 379.98 129.1 380.02 125.4 380.06 122.1 380.11 95.4 380.17 109.1 380.21 134.8 380.26 122.4 380.31 89.2 380.39 126.7 380.42 144.8 380.46 121.3 380.53 140.3 380.58 129.8 380.63 100.8 380.68 107.9 380.73 133.6 380.76 135.9 380.83 134.2 380.88 147.6 380.93 135.2 380.96 174.4 381.04 99.2 381.09 121.4 381.14 126.2 381.19 105.3 381.24 127.0 381.29 106.0 381.31 121.5 381.36 167.4 381.43 110.4 381.49 107.5 381.53 139.5 381.58 88.0 381.64 124.4 381.68 90.1 381.74 132.2 381.78 126.4 381.83 126.2 381.87 100.9 381.94 129.2 381.96 57.6 382.03 83.5 382.07 118.4 382.14 117.9 382.18 126.0 382.23 119.9 382.28 107.7 382.32 126.6 382.38 154.1 382.41 113.3 382.48 124.4 382.52 118.9 382.58 119.1 382.63 127.4 382.69 93.5 382.73 126.7 382.76 101.9 382.81 109.3 382.87 145.3 382.93 118.8 382.97 109.7 383.03 104.9 383.07 113.7 383.11 118.5 383.16 122.3 383.23 124.5 383.27 120.1 383.31 129.3 383.36 132.0 383.41 134.7 383.48 121.6 383.53 131.0 383.59 111.5 383.64 146.2 383.66 115.1 383.71 115.5 383.79 83.5 383.82 124.7 383.88 154.1 383.94 132.5 383.98 108.5 384.04 117.8 384.09 136.6 384.14 126.6 384.19 126.6 384.23 168.3 384.26 108.8 384.31 77.1 384.36 124.9 384.42 127.2 384.47 121.4 384.54 118.1 384.59 141.5 384.61 119.9 384.67 120.1 384.74 121.3 384.77 144.2 384.83 123.9 384.89 168.3 384.94 116.5 384.96 101.9 385.04 105.8 385.08 132.5 385.14 124.7 385.18 111.8 385.24 124.0 385.26 132.5 385.32 95.9 385.36 113.0 385.41 132.5 385.48 119.1 385.54 117.8 385.58 128.8 385.64 115.8 385.69 160.5 385.73 111.2 385.77 111.9 385.81 137.7 385.89 112.3 385.94 115.6 385.99 111.4 386.04 100.3 386.07 89.9 386.11 107.1 386.19 149.9 386.24 113.2 386.28 124.2 386.32 126.9 386.38 115.1 386.43 128.0 386.47 62.4 386.52 116.4 386.57 121.3 386.63 106.6 386.67 106.3 386.72 98.9 386.77 109.5 386.84 122.3 386.88 178.8 386.91 163.0 386.96 149.8 387.01 119.8 387.09 131.6 387.14 133.1 387.19 105.8 387.21 146.3 387.28 114.1 387.32 112.1 387.37 129.7 387.41 71.0 387.46 109.4 387.54 139.2 387.57 114.6 387.61 115.3 387.67 131.7 387.72 113.9 387.76 111.5 387.83 131.4 387.88 153.2 387.93 116.2 387.99 131.7 388.04 122.2 388.06 91.4 388.12 98.1 388.19 125.0 388.21 123.8 388.28 135.3 388.32 140.3 388.37 110.8 388.42 125.1 388.48 127.1 388.54 124.0 388.56 112.4 388.61 71.0 388.68 153.2 388.73 124.3 388.78 120.2 388.84 93.4 388.89 149.9 388.92 137.4 388.96 115.2 389.01 131.1 389.07 123.8 389.11 109.8 389.17 105.9 389.22 174.1 389.27 98.7 389.32 110.7 389.39 119.9 389.44 132.9 389.46 111.3 389.51 129.0 389.58 85.0 389.61 112.8 389.69 118.3 389.72 108.8 389.79 132.2 389.82 104.1 389.88 116.2 389.91 124.0 389.96 132.8 390.02 103.0 390.06 148.1 390.11 144.9 390.19 168.6 390.22 121.5 390.28 53.8 390.31 112.5 390.37 135.6 390.43 162.3 390.48 113.7 390.53 125.8 390.57 105.9 390.61 81.6 390.67 119.9 390.72 110.3 390.77 138.6 390.81 104.1 390.89 114.9 390.91 116.7 390.97 103.9 391.03 144.0 391.07 107.8 391.11 116.9 391.19 132.4 391.22 126.6 391.26 115.5 391.32 120.1 391.39 123.9 391.41 107.3 391.49 101.7 391.51 173.3 391.56 121.9 391.64 142.1 391.67 124.7 391.74 61.8 391.77 105.4 391.82 118.4 391.89 123.2 391.92 134.9 391.99 117.5 392.03 150.4 392.08 128.8 392.13 77.0 392.18 107.9 392.21 118.8 392.28 157.0 392.31 137.6 392.39 112.6 392.44 117.5 392.47 157.0 392.54 105.0 392.58 119.9 392.63 106.8 392.68 152.8 392.73 52.6 392.76 126.8 392.83 132.9 392.89 95.5 392.94 111.1 392.97 104.7 393.03 146.0 393.09 52.6 393.13 137.2 393.16 97.0 393.21 119.7 393.29 128.8 393.34 122.0 393.36 99.9 393.44 138.1 393.48 113.3 393.53 157.0 393.59 125.3 393.64 133.2 393.67 116.3 393.71 119.0 393.78 100.9 393.82 109.8 393.88 132.2 393.93 144.7 393.98 135.9 394.01 127.6 394.09 172.6 394.12 124.4 394.16 115.8 394.21 133.7 394.26 122.8 394.34 127.0 394.37 140.5 394.43 99.5 394.47 111.1 394.54 132.3 394.58 141.2 394.62 93.3 394.69 132.9 394.74 129.9 394.79 141.8 394.84 132.8 394.86 121.0 394.92 116.4 394.99 148.0 395.04 93.5 395.09 127.8 395.13 121.5 395.18 108.6 395.24 133.6 395.27 125.8 395.31 114.8 395.39 128.0 395.43 95.3 395.47 171.4 395.54 93.5 395.59 130.5 395.61 109.1 395.68 100.8 395.73 114.9 395.79 140.3 395.83 126.2 395.86 121.0 395.91 114.5 395.99 109.0 396.04 110.6 396.07 113.8 396.12 58.8 396.17 118.2 396.21 128.4 396.27 124.1 396.31 157.4 396.36 147.8 396.41 157.4 396.47 117.1 396.53 101.6 396.58 124.6 396.63 126.3 396.66 103.1 396.72 127.9 396.76 111.0 396.84 114.7 396.86 144.0 396.93 116.6 396.97 118.5 397.01 109.8 397.08 115.8 397.12 122.4 397.17 126.3 397.22 141.2 397.28 55.0 397.34 120.0 397.39 117.6 397.41 122.4 397.47 123.0 397.54 131.6 397.57 141.2 397.63 113.5 397.67 113.7 397.73 136.0 397.78 93.9 397.82 138.9 397.87 107.3 397.93 118.2 397.99 117.2 398.03 120.5 398.07 98.4 398.11 125.6 398.19 55.0 398.22 141.2 398.26 135.5 398.34 126.9 398.39 103.9 398.43 96.9 398.47 112.6 398.54 118.9 398.58 135.1 398.64 136.5 398.69 116.4 398.73 119.4 398.79 130.3 398.84 128.3 398.86 99.0 398.93 107.3 398.99 121.0 399.01 183.2 399.08 152.2 399.11 127.6 399.18 148.0 399.23 103.3 399.29 116.6 399.32 144.6 399.36 112.4 399.44 150.0 399.48 86.7 399.52 114.0 399.57 120.7 399.63 140.3 399.69 123.6 399.71 124.8 399.78 120.8 399.84 97.5 399.86 94.1 399.93 95.9 399.99 132.2 400.01 167.0 400.08 130.8 400.13 105.4 400.17 126.8 400.21 106.8 400.27 164.5 400.34 172.0 400.37 101.3 400.44 98.6 400.47 129.3 400.54 134.1 400.58 116.2 400.64 139.9 400.66 127.3 400.74 146.7 400.77 120.7 400.81 84.8 400.86 97.8 400.91 116.6 400.98 131.7 401.02 132.8 401.06 110.3 401.14 112.7 401.16 142.5 401.23 111.1 401.28 117.9 401.34 118.8 401.39 114.8 401.42 122.3 401.48 121.7 401.51 105.7 401.59 149.2 401.62 140.4 401.66 133.6 401.71 106.0 401.77 58.9 401.81 92.4 401.86 149.2 401.92 132.9 401.97 128.8 402.04 117.3 402.08 109.0 402.13 149.1 402.17 112.8 402.24 116.2 402.29 134.2 402.33 125.2 402.36 172.7 402.43 120.4 402.48 130.0 402.54 166.4 402.58 57.6 402.64 134.5 402.69 116.5 402.73 126.6 402.76 172.7 402.83 120.3 402.87 127.6 402.94 112.3 402.96 105.7 403.04 154.6 403.07 57.6 403.14 154.4 403.19 78.5 403.24 118.5 403.28 124.5 403.33 136.8 403.38 141.9 403.41 172.7 403.48 172.7 403.51 123.7 403.58 120.8 403.63 149.6 403.67 123.2 403.71 114.7 403.78 123.6 403.81 110.0 403.87 138.5 403.93 115.7 403.96 104.6 404.04 126.8 404.07 120.3 404.11 101.6 404.17 129.5 404.22 90.8 404.26 130.4 404.33 118.3 404.38 135.2 404.41 117.3 404.47 114.0 404.51 130.1 404.57 130.9 404.61 137.6 404.66 121.5 404.72 133.7 404.76 128.5 404.81 126.4 404.88 152.4 404.91 113.2 404.99 105.3 405.01 130.8 405.07 160.9 405.11 137.3 405.19 109.2 405.22 124.9 405.27 78.7 405.33 109.7 405.39 149.1 405.43 125.0 405.47 100.8 405.53 121.7 405.57 107.4 405.64 116.1 405.67 128.9 405.74 118.0 405.77 107.3 405.81 103.9 405.89 101.7 405.91 137.4 405.99 110.4 406.01 178.3 406.08 102.2 406.11 138.9 406.19 80.6 406.21 140.3 406.29 100.1 406.32 142.4 406.36 178.3 406.43 105.4 406.49 104.0 406.51 56.7 406.57 72.4 406.61 128.6 406.69 89.7 406.72 142.9 406.77 141.8 406.83 120.1 406.89 142.8 406.94 112.6 406.97 166.3 407.02 125.9 407.09 115.6 407.12 112.3 407.19 103.4 407.24 129.8 407.27 114.6 407.31 112.6 407.39 134.5 407.43 120.3 407.49 134.1 407.53 124.9 407.59 116.4 407.62 160.0 407.69 133.5 407.71 132.6 407.79 120.7 407.82 81.7 407.86 117.0 407.92 133.3 407.96 128.8 408.02 118.2 408.08 123.3 408.12 137.6 408.18 137.6 408.24 95.3 408.26 132.0 408.34 106.1 408.38 131.4 408.42 104.7 408.46 112.7 408.53 160.0 408.59 95.3 408.61 134.3 408.68 125.0 408.73 133.3 408.77 132.2 408.84 126.7 408.88 81.7 408.91 126.2 408.99 101.0 409.03 115.3 409.08 94.6 409.11 129.5 409.16 121.0 409.22 125.6 409.26 121.6 409.31 125.7 409.36 124.4 409.41 151.0 409.49 125.9 409.53 111.7 409.57 65.4 409.64 127.1 409.66 113.5 409.74 103.2 409.79 123.2 409.82 152.8 409.89 96.0 409.92 102.8 409.96 128.6 410.01 128.4 410.06 105.1 410.13 116.6 410.19 122.2 410.23 108.2 410.29 122.6 410.31 129.0 410.38 123.7 410.43 153.6 410.48 95.3 410.53 113.6 410.56 123.1 410.62 122.5 410.66 111.9 410.74 119.1 410.79 112.6 410.84 120.6 410.88 134.7 410.91 132.9 410.98 138.2 411.04 96.8 411.06 125.7 411.11 110.1 411.19 107.2 411.21 118.1 411.29 115.9 411.32 112.5 411.36 101.0 411.43 115.4 411.46 105.2 411.51 125.8 411.58 127.5 411.63 120.8 411.68 116.6 411.74 114.8 411.76 64.7 411.84 143.4 411.87 121.0 411.94 95.5 411.96 117.5 412.04 117.4 412.06 97.1 412.12 132.1 412.19 62.4 412.22 131.4 412.29 129.9 412.32 149.7 412.38 135.6 412.44 105.0 412.46 149.7 412.53 119.5 412.58 85.7 412.61 113.9 412.66 140.0 412.71 124.8 412.77 122.7 412.83 98.3 412.86 135.1 412.93 115.6 412.96 107.5 413.04 107.3 413.08 112.4 413.14 123.5 413.18 129.8 413.22 149.7 413.29 130.5 413.31 117.4 413.39 112.1 413.43 149.7 413.49 149.7 413.51 62.4 413.57 137.0 413.64 125.0 413.68 149.7 413.71 113.2 413.78 149.1 413.82 130.2 413.88 108.0 413.91 118.8 413.96 134.0 414.02 127.7 414.08 130.3 414.11 152.0 414.16 97.0 414.23 127.6 414.29 134.1 414.31 132.8 414.39 118.5 414.42 131.2 414.48 121.5 414.54 118.9 414.59 98.8 414.63 143.1 414.67 116.7 414.71 133.7 414.78 129.2 414.83 49.6 414.88 111.0 414.92 128.4 414.96 113.3 415.04 110.6 415.08 109.2 415.12 137.9 415.18 131.0 415.22 122.9 415.26 126.7 415.34 147.7 415.39 108.6 415.43 113.8 415.48 107.1 415.53 109.2 415.57 122.7 415.61 67.5 415.68 131.7 415.72 110.7 415.78 109.8 415.82 108.1 415.87 126.2 415.94 127.0 415.96 118.2 416.01 123.5 416.07 82.2 416.14 117.4 416.17 136.0 416.21 141.4 416.29 120.5 416.31 112.9 416.37 119.7 416.43 127.2 416.49 128.4 416.54 113.5 416.59 124.8 416.63 142.8 416.69 114.8 416.71 119.3 416.77 117.9 416.83 111.2 416.88 108.3 416.94 116.1 416.96 123.5 417.04 108.6 417.09 122.1 417.11 130.8 417.16 122.4 417.22 96.9 417.29 119.2 417.32 160.6 417.36 105.5 417.43 129.5 417.49 114.5 417.51 119.5 417.59 133.4 417.64 121.1 417.67 121.6 417.74 123.8 417.78 113.2 417.84 126.8 417.88 96.9 417.92 109.7 417.98 131.5 418.04 140.9 418.08 100.2 418.11 160.6 418.16 135.9 418.23 125.9 418.28 128.8 418.32 120.8 418.37 96.9 418.44 146.9 418.49 108.3 418.54 103.3 418.57 133.0 418.62 106.0 418.68 108.3 418.71 111.0 418.78 104.3 418.83 136.8 418.89 114.1 418.91 132.7 418.97 96.9 419.03 108.3 419.07 101.9 419.14 125.5 419.18 104.1 419.24 122.5 419.27 119.0 419.31 118.4 419.36 149.5 419.44 129.6 419.46 123.9 419.53 117.3 419.56 123.5 419.64 132.6 419.67 136.5 419.72 75.1 419.79 136.8 419.83 136.7 419.88 123.2 419.94 119.6 419.99 132.4 420.02 63.8 420.09 114.6 420.14 135.8 420.17 172.6 420.22 146.2 420.29 129.5 420.33 108.2 420.36 120.4 420.41 92.2 420.48 120.0 420.51 118.3 420.58 118.2 420.64 153.9 420.68 111.2 420.72 142.4 420.79 128.9 420.83 78.6 420.89 144.8 420.91 119.7 420.99 116.5 421.02 115.6 421.07 180.7 421.11 90.9 421.18 128.3 421.24 115.9 421.27 129.5 421.32 90.9 421.37 122.1 421.44 133.5 421.49 106.8 421.52 130.0 421.57 115.7 421.61 123.3 421.67 132.9 421.72 100.7 421.77 120.5 421.81 105.3 421.87 127.1 421.91 143.7 421.97 140.9 422.04 127.5 422.06 118.1 422.11 101.8 422.18 132.7 422.23 106.5 422.26 129.4 422.34 132.2 422.37 119.4 422.42 110.6 422.48 129.7 422.52 129.9 422.56 126.7 422.62 152.0 422.66 119.8 422.72 129.7 422.78 124.7 422.81 118.0 422.87 126.5 422.92 109.2 422.96 87.3 423.03 147.9 423.09 128.2 423.14 117.6 423.19 122.5 423.23 121.4 423.26 134.2 423.32 115.6 423.37 131.8 423.43 111.9 423.47 87.3 423.53 126.1 423.57 105.6 423.62 152.0 423.68 110.6 423.74 120.7 423.76 121.9 423.82 110.9 423.87 117.1 423.93 122.0 423.98 123.2 424.04 165.2 424.08 118.8 424.11 115.6 424.16 157.4 424.21 97.3 424.28 132.9 424.32 124.0 424.36 96.0 424.44 74.5 424.46 114.7 424.54 128.7 424.57 121.2 424.64 134.5 424.67 100.8 424.73 139.1 424.76 116.3 424.82 113.5 424.88 123.3 424.93 126.1 424.96 125.9 425.02 64.5 425.06 149.1 425.11 99.1 425.19 162.3 425.24 139.0 425.29 100.4 425.34 113.5 425.39 155.3 425.43 149.4 425.48 128.4 425.52 142.7 425.57 124.4 425.61 78.3 425.68 72.3 425.72 122.5 425.78 108.5 425.84 107.0 425.89 123.8 425.93 146.3 425.98 103.9 426.02 123.5 426.08 143.3 426.14 143.3 426.16 104.5 426.23 106.1 426.28 131.4 426.34 100.1 426.37 122.7 426.43 115.1 426.47 103.3 426.52 128.7 426.56 133.0 426.62 143.3 426.67 57.6 426.72 115.1 426.77 109.1 426.82 112.9 426.87 120.2 426.92 104.9 426.98 136.7 427.01 129.6 427.06 132.9 427.12 124.0 427.19 113.7 427.21 131.6 427.26 139.3 427.34 123.2 427.36 95.5 427.42 126.9 427.49 119.4 427.52 125.4 427.56 114.2 427.62 109.1 427.68 123.1 427.71 111.4 427.77 145.5 427.82 119.9 427.86 132.9 427.93 120.1 427.96 94.1 428.04 107.3 428.08 109.3 428.12 121.4 428.16 114.4 428.22 117.3 428.27 121.0 428.33 94.1 428.39 116.2 428.42 120.4 428.46 106.6 428.54 125.0 428.57 109.4 428.62 103.3 428.69 145.5 428.73 119.3 428.78 123.3 428.81 135.7 428.89 122.2 428.91 100.3 428.98 135.4 429.02 113.2 429.08 178.8 429.13 121.9 429.16 57.6 429.22 89.3 429.26 128.7 429.31 117.0 429.37 178.8 429.42 128.6 429.47 107.6 429.51 144.6 429.59 93.9 429.61 160.4 429.66 93.5 429.73 132.1 429.77 142.6 429.83 131.5 429.86 127.0 429.94 142.5 429.97 150.0 430.03 115.3 430.09 110.8 430.13 105.1 430.19 119.7 430.22 117.2 430.26 160.8 430.32 101.1 430.39 148.0 430.44 122.4 430.47 62.5 430.54 160.8 430.59 148.2 430.61 94.7 430.69 131.0 430.72 124.4 430.76 124.5 430.83 109.4 430.87 108.7 430.93 123.8 430.99 103.1 431.04 101.7 431.08 142.3 431.11 124.4 431.19 115.8 431.24 69.8 431.26 153.2 431.32 116.8 431.38 76.6 431.41 132.5 431.47 102.3 431.51 118.0 431.58 147.5 431.62 175.2 431.69 137.8 431.74 120.3 431.77 69.8 431.83 108.7 431.89 165.1 431.91 124.9 431.98 98.8 432.04 118.1 432.06 122.5 432.11 142.3 432.18 124.2 432.24 100.4 432.29 115.3 432.31 66.3 432.39 142.9 432.41 141.3 432.46 131.0 432.52 104.3 432.58 134.9 432.63 132.2 432.69 107.5 432.72 125.2 432.77 124.5 432.82 116.9 432.86 120.8 432.93 125.8 432.96 118.6 433.03 107.9 433.08 106.6 433.14 142.3 433.17 66.3 433.22 128.0 433.29 130.4 433.33 103.9 433.39 93.7 433.44 135.8 433.48 108.2 433.52 125.3 433.56 104.1 433.64 142.9 433.67 127.6 433.71 106.1 433.78 131.8 433.84 106.4 433.88 128.6 433.91 142.9 433.97 114.3 434.04 143.4 434.09 110.4 434.11 99.3 434.17 103.0 434.22 166.0 434.27 126.5 434.32 148.8 434.39 119.2 434.42 53.5 434.48 131.8 434.53 140.9 434.58 105.4 434.61 142.2 434.67 113.6 434.74 131.3 434.76 154.3 434.82 91.2 434.89 110.4 434.91 111.7 434.97 149.2 435.03 56.3 435.06 97.7 435.12 132.7 435.16 124.5 435.24 137.9 435.29 137.3 435.31 124.7 435.36 151.1 435.42 126.7 435.48 177.7 435.54 116.5 435.59 156.0 435.64 110.0 435.68 102.6 435.73 157.1 435.79 109.6 435.83 132.1 435.87 99.6 435.94 134.7 435.98 129.6 436.04 107.3 436.07 116.7 436.12 125.3 436.19 118.3 436.23 108.9 436.29 111.5 436.34 82.8 436.36 177.8 436.43 139.6 436.46 135.6 436.51 177.8 436.58 119.6 436.61 107.1 436.66 152.4 436.74 128.4 436.77 60.8 436.83 125.1 436.88 132.0 436.93 118.6 436.99 91.3 437.03 113.0 437.07 124.9 437.12 115.4 437.16 140.2 437.22 140.2 437.28 126.7 437.31 136.2 437.37 140.2 437.44 116.0 437.47 108.8 437.53 104.2 437.59 113.1 437.61 132.4 437.67 116.1 437.74 130.1 437.79 64.0 437.83 136.9 437.88 105.8 437.91 117.9 437.96 127.0 438.04 101.7 438.08 126.8 438.11 131.2 438.19 134.2 438.24 109.4 438.27 122.8 438.34 127.2 438.36 140.2 438.43 134.9 438.49 118.7 438.53 123.5 438.57 140.2 438.62 64.0 438.68 120.3 438.72 88.4 438.79 133.0 438.84 140.2 438.87 113.3 438.93 129.4 438.96 140.2 439.02 104.4 439.06 110.0 439.13 139.8 439.19 118.7 439.23 162.7 439.26 139.1 439.34 129.0 439.38 111.1 439.42 113.4 439.47 135.9 439.54 81.7 439.56 120.7 439.64 144.8 439.67 117.5 439.73 104.7 439.78 106.2 439.84 131.4 439.89 128.9 439.91 136.2 439.99 130.1 440.03 103.4 440.06 126.4 440.14 110.6 440.17 124.0 440.23 126.9 440.27 124.4 440.34 70.4 440.38 110.6 440.44 127.1 440.49 139.6 440.53 133.5 440.59 137.5 440.61 112.2 440.66 156.0 440.73 101.1 440.78 121.4 440.84 124.5 440.87 104.2 440.91 128.6 440.97 127.5 441.03 125.4 441.07 117.4 441.11 104.4 441.16 121.8 441.23 96.5 441.29 110.7 441.33 131.6 441.37 131.3 441.44 121.5 441.47 129.9 441.51 123.9 441.59 111.9 441.61 119.0 441.68 173.0 441.71 132.1 441.76 91.5 441.84 141.9 441.88 147.2 441.93 128.7 441.96 121.5 442.04 132.6 442.08 53.8 442.12 110.7 442.17 131.7 442.22 139.7 442.27 112.9 442.32 116.6 442.38 111.1 442.43 121.5 442.48 106.2 442.53 114.4 442.58 143.2 442.64 119.2 442.66 110.5 442.73 143.2 442.79 100.0 442.83 129.1 442.89 111.6 442.91 140.9 442.98 122.2 443.04 128.5 443.08 118.3 443.11 121.6 443.19 104.2 443.22 143.2 443.26 109.3 443.34 130.2 443.38 53.8 443.43 126.9 443.47 123.4 443.53 110.6 443.59 118.7 443.63 143.2 443.69 123.1 443.73 123.6 443.76 116.4 443.83 143.2 443.89 123.3 443.91 106.5 443.96 138.6 444.03 149.8 444.06 112.3 444.13 96.7 444.18 151.5 444.21 123.9 444.29 65.3 444.32 139.0 444.38 142.9 444.43 121.4 444.48 125.3 444.52 131.2 444.58 97.8 444.62 99.9 444.66 112.2 444.73 122.8 444.76 126.6 444.82 108.8 444.89 125.2 444.94 99.9 444.99 103.4 445.01 90.1 445.06 138.1 445.14 168.7 445.17 129.9 445.22 130.6 445.27 117.3 445.32 120.4 445.38 111.7 445.42 70.9 445.49 131.0 445.51 127.6 445.56 112.7 445.64 154.7 445.66 67.0 445.72 175.2 445.78 147.1 445.81 136.2 445.88 111.4 445.92 105.1 445.99 97.6 446.04 116.8 446.09 123.8 446.11 120.1 446.19 131.2 446.21 115.6 446.28 119.4 446.32 146.1 446.39 160.3 446.44 90.4 446.46 132.5 446.52 104.7 446.59 133.9 446.62 79.7 446.66 96.3 446.72 117.7 446.76 99.6 446.81 116.4 446.89 106.5 446.94 122.6 446.99 100.7 447.01 136.9 447.08 127.9 447.11 117.7 447.17 110.5 447.22 136.9 447.28 82.8 447.31 130.9 447.37 109.5 447.42 123.1 447.48 124.0 447.51 114.4 447.57 159.6 447.62 123.2 447.69 104.1 447.71 133.1 447.76 116.4 447.84 134.7 447.87 117.3 447.94 132.0 447.96 119.6 448.01 120.3 448.09 137.0 448.13 119.1 448.17 150.6 448.24 101.6 448.29 95.5 448.32 159.6 448.39 131.3 448.44 124.2 448.46 108.7 448.52 111.7 448.57 129.3 448.63 104.7 448.68 110.9 448.72 113.3 448.78 124.9 448.83 82.8 448.88 129.5 448.91 117.9 448.97 128.9 449.03 122.7 449.07 80.9 449.13 96.5 449.16 121.2 449.21 134.6 449.28 110.7 449.31 156.6 449.38 117.4 449.41 123.3 449.49 181.8 449.54 145.8 449.56 127.6 449.64 137.6 449.68 129.3 449.73 110.2 449.79 123.6 449.82 130.4 449.87 100.2 449.92 120.1 449.98 154.7 450.01 58.8 450.06 137.2 450.12 153.8 450.19 127.8 450.21 143.0 450.26 104.1 450.32 141.4 450.37 125.3 450.42 113.8 450.48 121.5 450.51 117.5 450.56 125.7 450.62 110.2 450.69 136.6 450.71 112.7 450.76 141.0 450.81 119.0 450.86 140.0 450.91 125.1 450.97 153.8 451.02 117.6 451.09 140.0 451.12 123.8 451.17 119.6 451.22 113.7 451.27 133.1 451.32 141.8 451.36 134.5 451.44 116.9 451.47 113.1 451.51 121.1 451.57 106.6 451.62 111.9 451.68 117.1 451.71 106.5 451.77 138.7 451.84 61.8 451.89 141.8 451.91 122.3 451.97 128.4 452.03 101.5 452.06 147.6 452.12 130.0 452.16 123.8 452.24 161.2 452.29 106.9 452.32 113.8 452.36 111.2 452.44 151.9 452.49 118.1 452.54 112.7 452.58 100.1 452.64 133.2 452.67 107.6 452.71 80.1 452.79 131.4 452.84 130.8 452.87 75.5 452.93 153.9 452.96 202.7 453.03 117.9 453.09 95.7 453.12 98.1 453.16 129.5 453.23 118.8 453.26 75.5 453.34 124.4 453.38 121.5 453.43 96.0 453.47 109.4 453.53 90.7 453.58 202.7 453.63 148.9 453.69 115.3 453.72 131.4 453.77 156.3 453.82 144.9 453.86 132.6 453.92 86.2 453.99 120.0 454.02 146.6 454.09 110.7 454.13 128.2 454.16 118.9 454.23 125.8 454.29 114.8 454.34 125.6 454.36 123.8 454.44 103.7 454.49 123.7 454.54 138.5 454.59 120.5 454.61 82.6 454.67 127.2 454.73 121.1 454.79 110.9 454.84 127.3 454.87 123.8 454.92 129.3 454.98 118.3 455.01 118.1 455.07 107.9 455.13 107.6 455.17 123.3 455.24 100.7 455.27 116.0 455.34 109.6 455.36 133.9 455.43 130.3 455.49 75.4 455.54 101.8 455.56 143.5 455.63 142.5 455.69 112.7 455.72 120.1 455.79 143.5 455.84 126.2 455.87 143.5 455.92 108.1 455.97 143.3 456.02 111.9 456.07 116.2 456.11 139.2 456.19 122.8 456.22 134.3 456.28 130.4 456.31 100.9 456.38 136.6 456.43 131.9 456.48 112.5 456.52 67.6 456.59 118.8 456.61 144.5 456.68 121.9 456.71 127.4 456.78 134.3 456.81 130.4 456.86 126.1 456.94 108.0 456.98 164.3 457.03 132.3 457.08 143.7 457.13 147.7 457.19 100.9 457.23 109.0 457.26 133.8 457.34 103.4 457.38 124.0 457.44 82.9 457.47 144.7 457.51 130.0 457.58 119.4 457.61 117.9 457.68 130.2 457.73 180.8 457.78 98.0 457.81 134.2 457.89 114.7 457.91 145.7 457.97 114.5 458.03 114.4 458.08 83.6 458.11 130.0 458.17 111.5 458.23 116.6 458.29 122.1 458.34 105.3 458.36 82.9 458.42 122.2 458.47 118.4 458.52 156.8 458.57 132.5 458.63 180.8 458.66 94.5 458.72 111.6 458.76 108.4 458.81 110.9 458.89 124.0 458.91 94.5 458.98 124.3 459.04 119.1 459.07 164.8 459.13 136.2 459.17 113.9 459.24 122.0 459.28 88.0 459.33 127.9 459.36 108.4 459.41 91.8 459.47 124.2 459.51 104.4 459.57 115.8 459.61 119.9 459.69 94.1 459.72 137.4 459.78 130.9 459.83 62.8 459.88 122.8 459.92 104.4 459.96 125.1 460.03 140.0 460.07 141.9 460.13 109.0 460.19 108.8 460.23 118.3 460.26 149.3 460.32 125.9 460.39 58.9 460.44 109.8 460.47 99.7 460.51 112.7 460.59 167.6 460.61 91.3 460.66 162.2 460.72 103.2 460.76 128.6 460.83 112.3 460.89 117.1 460.92 138.9 460.98 136.8 461.03 124.0 461.08 141.4 461.14 123.5 461.16 139.7 461.23 117.1 461.28 82.7 461.34 117.6 461.37 119.3 461.43 125.9 461.47 114.9 461.53 134.1 461.56 126.6 461.64 96.3 461.66 136.4 461.72 127.8 461.76 137.5 461.84 107.1 461.88 153.8 461.94 136.0 461.99 135.8 462.04 118.8 462.08 123.8 462.14 141.8 462.19 124.4 462.23 128.6 462.29 109.7 462.34 114.0 462.38 93.9 462.44 109.2 462.46 108.1 462.54 164.3 462.57 120.1 462.63 126.1 462.68 122.0 462.74 132.7 462.77 117.3 462.84 122.8 462.89 145.2 462.92 152.9 462.97 130.2 463.01 119.2 463.07 105.0 463.13 112.1 463.17 164.3 463.24 147.1 463.26 139.0 463.31 127.8 463.36 126.4 463.41 137.1 463.46 126.4 463.54 120.8 463.58 129.3 463.62 123.7 463.66 123.2 463.74 130.2 463.78 132.0 463.82 93.9 463.87 119.1 463.94 134.1 463.99 145.5 464.02 131.7 464.06 137.8 464.12 119.0 464.16 135.4 464.21 120.1 464.26 108.5 464.31 111.2 464.38 172.0 464.41 114.6 464.46 66.2 464.51 137.1 464.59 113.4 464.61 90.0 464.69 128.6 464.74 138.1 464.78 98.7 464.84 124.7 464.86 110.7 464.94 104.2 464.98 139.3 465.04 138.8 465.06 103.3 465.11 131.2 465.17 109.4 465.22 55.9 465.28 103.9 465.32 123.9 465.39 165.0 465.41 142.7 465.47 126.6 465.52 98.4 465.59 129.9 465.62 121.6 465.67 100.7 465.71 132.4 465.77 117.3 465.84 117.7 465.89 133.1 465.94 118.6 465.96 104.3 466.03 115.3 466.06 115.2 466.12 137.7 466.19 105.6 466.23 129.6 466.27 133.9 466.34 127.3 466.37 132.6 466.42 174.0 466.48 113.1 466.53 93.4 466.58 123.6 466.62 130.1 466.68 126.0 466.72 137.5 466.78 131.9 466.83 96.7 466.86 132.3 466.93 128.3 466.99 114.3 467.04 135.7 467.07 131.8 467.11 111.3 467.17 114.9 467.21 111.7 467.28 68.4 467.32 126.2 467.38 129.9 467.41 129.7 467.47 108.8 467.54 99.9 467.59 92.5 467.63 138.3 467.68 126.1 467.71 122.5 467.78 125.0 467.83 139.6 467.86 163.3 467.93 99.6 467.96 125.0 468.04 116.0 468.08 134.3 468.14 93.8 468.17 115.8 468.21 102.4 468.28 137.7 468.34 111.8 468.39 121.1 468.41 125.9 468.46 134.9 468.53 133.2 468.57 68.4 468.61 132.6 468.68 122.9 468.73 113.6 468.78 146.4 468.84 138.3 468.89 163.3 468.91 147.6 468.96 126.9 469.01 118.9 469.09 123.2 469.11 141.5 469.17 111.0 469.21 117.7 469.26 63.5 469.33 130.0 469.39 122.6 469.44 124.0 469.46 146.1 469.54 87.9 469.59 148.4 469.61 148.4 469.66 127.3 469.72 143.9 469.79 116.6 469.84 128.8 469.88 121.3 469.92 119.1 469.97 121.3 470.02 164.6 470.07 139.1 470.14 113.7 470.17 59.3 470.23 98.1 470.27 139.6 470.31 116.7 470.38 117.2 470.41 117.7 470.46 160.7 470.54 107.1 470.59 149.6 470.62 84.3 470.67 110.6 470.73 123.6 470.78 111.0 470.83 119.4 470.87 131.0 470.94 123.4 470.97 115.8 471.02 105.9 471.06 111.0 471.12 118.2 471.16 94.6 471.22 127.4 471.29 128.4 471.34 125.0 471.38 153.1 471.43 119.2 471.47 104.6 471.53 127.6 471.59 121.4 471.64 118.7 471.67 132.6 471.74 160.7 471.77 130.6 471.82 126.5 471.87 118.9 471.91 122.3 471.96 120.6 472.01 121.6 472.09 147.0 472.14 128.2 472.16 130.1 472.21 123.6 472.29 124.6 472.33 119.5 472.36 110.3 472.44 122.8 472.49 117.0 472.52 96.0 472.58 125.9 472.63 119.2 472.67 127.4 472.73 111.6 472.77 125.2 472.84 123.1 472.86 130.6 472.92 125.4 472.96 130.2 473.02 109.8 473.09 111.4 473.13 133.4 473.18 122.7 473.22 125.7 473.28 112.4 473.31 96.0 473.39 107.9 473.42 121.7 473.48 128.5 473.54 122.5 473.58 126.8 473.62 102.5 473.69 120.5 473.71 125.9 473.79 121.0 473.82 147.0 473.88 130.0 473.91 136.2 473.99 110.6 474.04 103.0 474.07 99.8 474.13 134.5 474.18 56.5 474.21 147.9 474.27 89.5 474.32 132.4 474.39 98.2 474.44 126.8 474.48 127.9 474.52 91.7 474.57 138.0 474.62 97.8 474.67 128.4 474.72 138.1 474.77 137.4 474.82 100.9 474.89 123.3 474.94 166.0 474.99 149.8 475.04 129.0 475.07 108.7 475.14 114.5 475.17 121.2 475.23 124.3 475.26 121.0 475.31 116.5 475.37 126.3 475.41 155.5 475.46 174.3 475.52 106.6 475.59 124.0 475.62 102.9 475.66 139.5 475.72 104.5 475.77 119.3 475.81 94.9 475.87 126.6 475.92 119.9 475.98 114.0 476.03 136.1 476.08 109.7 476.13 108.4 476.18 111.5 476.24 140.6 476.26 120.8 476.32 145.7 476.36 124.3 476.42 136.3 476.49 106.2 476.53 128.2 476.59 119.4 476.63 92.2 476.66 116.3 476.71 118.2 476.78 125.5 476.84 119.9 476.86 123.9 476.94 142.6 476.98 112.8 477.03 118.2 477.08 132.8 477.11 108.0 477.17 136.6 477.22 74.8 477.27 116.8 477.31 127.8 477.39 126.4 477.41 126.8 477.49 96.9 477.51 134.1 477.59 104.2 477.64 106.9 477.67 127.1 477.74 97.8 477.77 157.6 477.81 118.3 477.88 120.1 477.93 162.8 477.99 109.5 478.01 74.8 478.07 139.9 478.12 107.3 478.19 130.0 478.21 125.2 478.26 99.1 478.32 107.2 478.39 142.6 478.42 132.4 478.49 119.1 478.51 125.5 478.59 109.9 478.63 132.2 478.69 150.1 478.71 135.6 478.76 124.8 478.84 162.8 478.89 110.9 478.93 103.4 478.99 118.5 479.03 117.2 479.07 132.9 479.11 99.9 479.18 127.8 479.23 109.4 479.29 147.8 479.32 116.0 479.38 170.6 479.41 101.2 479.48 161.8 479.51 113.5 479.58 109.5 479.63 80.5 479.68 101.8 479.73 89.8 479.77 108.5 479.81 109.6 479.87 101.3 479.94 115.2 479.99 103.2 480.01 103.8 480.09 117.9 480.13 115.8 480.16 116.6 480.22 115.3 480.26 109.2 480.33 95.8 480.39 138.2 480.42 123.1 480.46 128.9 480.54 156.8 480.59 126.4 480.61 146.5 480.67 122.4 480.72 133.1 480.79 133.2 480.81 67.2 480.89 141.9 480.93 151.4 480.97 92.2 481.03 124.9 481.07 151.2 481.11 116.2 481.19 118.5 481.23 128.8 481.26 91.7 481.34 123.7 481.38 130.1 481.42 127.6 481.49 122.0 481.51 119.5 481.56 108.9 481.64 123.5 481.66 139.5 481.72 116.0 481.79 112.6 481.82 138.7 481.89 115.8 481.91 120.1 481.99 127.5 482.03 121.7 482.07 120.5 482.13 109.1 482.16 129.2 482.21 127.3 482.27 60.2 482.34 155.5 482.36 130.0 482.42 107.7 482.48 111.1 482.52 133.8 482.56 114.8 482.63 100.7 482.69 125.4 482.73 141.0 482.79 82.1 482.84 113.0 482.86 110.6 482.92 81.4 482.97 135.0 483.01 105.9 483.06 143.6 483.14 155.5 483.19 117.0 483.24 139.2 483.27 149.4 483.31 97.3 483.38 131.1 483.44 113.7 483.48 134.4 483.53 116.1 483.56 143.3 483.62 144.3 483.66 139.0 483.71 132.2 483.76 132.2 483.82 60.2 483.88 115.0 483.93 130.7 483.98 106.9 484.01 108.2 484.09 120.2 484.11 162.5 484.18 118.4 484.23 116.4 484.27 128.5 484.32 116.5 484.36 132.2 484.44 118.8 484.46 129.4 484.54 96.1 484.59 107.4 484.64 118.8 484.66 138.0 484.73 137.0 484.79 90.6 484.82 123.8 484.87 118.2 484.94 141.3 484.96 140.4 485.04 121.8 485.07 156.0 485.11 140.9 485.17 130.2 485.22 83.6 485.27 107.9 485.34 66.6 485.37 140.0 485.41 106.6 485.46 100.5 485.54 109.0 485.57 168.4 485.61 145.4 485.67 140.7 485.71 126.6 485.77 138.9 485.81 121.1 485.87 113.0 485.94 122.3 485.97 120.3 486.03 132.7 486.08 133.9 486.12 110.8 486.18 119.4 486.22 122.2 486.28 136.3 486.34 124.1 486.38 114.6 486.44 120.3 486.48 163.1 486.51 97.1 486.58 114.3 486.62 116.9 486.68 128.4 486.72 107.1 486.78 118.0 486.81 112.8 486.88 134.0 486.93 134.3 486.98 124.1 487.03 117.2 487.07 144.4 487.12 103.2 487.19 124.0 487.21 129.2 487.29 122.3 487.31 114.6 487.36 113.8 487.44 105.9 487.46 133.8 487.53 79.5 487.56 104.9 487.64 97.0 487.68 129.0 487.71 123.1 487.78 139.1 487.83 131.1 487.89 131.8 487.91 123.2 487.99 135.2 488.01 105.4 488.08 132.9 488.14 127.5 488.18 120.3 488.23 144.4 488.26 142.9 488.33 117.3 488.37 139.5 488.42 113.6 488.48 112.7 488.54 144.4 488.58 116.5 488.61 79.5 488.68 128.8 488.72 111.6 488.79 100.0 488.84 116.6 488.87 134.1 488.94 137.9 488.98 134.9 489.03 132.8 489.08 138.0 489.14 98.6 489.19 135.6 489.24 118.0 489.29 130.2 489.31 108.7 489.39 154.6 489.42 116.8 489.46 121.5 489.54 122.1 489.57 173.7 489.61 99.9 489.68 127.3 489.74 116.7 489.77 125.5 489.84 126.7 489.89 121.0 489.93 113.5 489.96 136.3 490.01 116.2 490.09 132.2 490.12 178.0 490.16 126.6 490.21 128.9 490.26 127.4 490.34 124.1 490.36 139.8 490.44 108.8 490.49 139.8 490.51 138.8 490.59 86.5 490.61 110.4 490.68 99.6 490.74 120.1 490.77 132.2 490.81 104.4 490.88 123.7 490.93 124.1 490.96 135.4 491.02 112.1 491.06 122.6 491.13 126.2 491.19 86.5 491.23 117.5 491.29 129.0 491.33 116.1 491.37 112.1 491.41 144.2 491.47 142.8 491.54 131.3 491.56 108.7 491.61 119.4 491.69 108.2 491.71 144.0 491.78 123.2 491.84 123.8 491.88 138.0 491.93 128.4 491.96 112.5 492.01 115.8 492.09 99.9 492.13 120.8 492.19 116.6 492.22 111.7 492.29 123.7 492.32 137.5 492.36 142.3 492.44 124.9 492.49 106.6 492.54 108.4 492.56 99.6 492.63 109.6 492.68 69.0 492.72 142.2 492.78 129.2 492.82 125.8 492.89 132.4 492.93 109.4 492.97 150.2 493.01 121.8 493.06 132.4 493.12 127.5 493.18 120.1 493.24 127.1 493.26 129.8 493.32 138.2 493.36 144.0 493.44 124.8 493.49 150.2 493.53 113.6 493.56 133.4 493.64 132.1 493.67 69.0 493.73 116.4 493.79 110.0 493.82 130.0 493.86 132.0 493.91 138.0 493.99 108.5 494.01 113.3 494.09 128.9 494.14 128.2 494.18 119.4 494.23 123.5 494.29 112.5 494.32 142.8 494.39 109.3 494.42 128.7 494.49 105.4 494.53 109.2 494.59 80.4 494.63 122.7 494.68 114.4 494.71 131.1 494.79 130.5 494.81 125.6 494.86 113.7 494.92 111.8 494.99 147.1 495.02 120.3 495.08 136.8 495.14 141.6 495.18 116.8 495.23 124.7 495.28 120.1 495.34 116.9 495.36 126.8 495.42 125.6 495.49 174.8 495.54 97.6 495.58 125.6 495.64 113.7 495.66 147.8 495.71 105.8 495.79 116.2 495.81 132.0 495.87 124.3 495.93 106.0 495.98 114.8 496.03 87.3 496.07 166.4 496.12 136.5 496.16 137.5 496.22 57.3 496.26 127.0 496.33 141.0 496.36 117.7 496.41 113.7 496.49 89.3 496.51 116.8 496.57 130.8 496.64 132.1 496.66 138.3 496.73 112.0 496.77 105.4 496.83 126.5 496.88 177.2 496.92 94.0 496.99 119.9 497.04 125.1 497.09 118.0 497.14 119.0 497.19 127.8 497.23 123.3 497.26 125.3 497.34 141.8 497.38 100.9 497.42 104.0 497.48 126.2 497.51 114.4 497.59 131.6 497.62 136.6 497.69 120.9 497.74 113.7 497.78 122.7 497.82 62.0 497.88 110.7 497.92 111.7 497.99 123.9 498.02 109.5 498.06 131.0 498.14 113.7 498.16 115.1 498.21 141.8 498.28 141.8 498.32 139.5 498.36 136.6 498.43 139.2 498.47 110.3 498.52 133.6 498.58 138.5 498.61 128.7 498.67 123.2 498.74 62.0 498.77 113.8 498.83 112.2 498.87 129.9 498.91 111.1 498.97 141.8 499.03 107.9 499.09 153.5 499.12 106.1 499.17 146.1 499.22 142.9 499.26 120.9 499.33 99.7 499.38 96.9 499.43 135.3 499.47 122.4 499.51 129.6 499.58 153.5 499.64 60.8 499.67 127.8 499.72 100.7 499.77 117.6 499.81 130.2 499.88 132.7 499.93 124.9 499.99 114.9 500.01 112.1 500.09 130.7 500.12 120.7 500.18 124.2 500.24 94.8 500.28 128.5 500.32 124.6 500.39 125.1 500.42 135.8 500.48 147.8 500.53 124.2 500.58 116.9 500.64 126.1 500.69 117.1 500.74 114.6 500.79 115.1 500.84 138.5 500.86 107.2 500.92 89.5 500.98 114.1 501.01 134.1 501.07 83.2 501.11 116.9 501.17 131.9 501.22 113.1 501.29 148.0 501.32 130.4 501.39 124.0 501.43 145.1 501.49 159.1 501.54 140.9 501.59 122.8 501.61 125.0 501.69 112.5 501.72 132.6 501.77 142.6 501.81 128.8 501.86 120.2 501.93 120.7 501.96 119.7 502.03 126.1 502.06 113.8 502.12 90.3 502.16 121.7 502.24 96.5 502.27 117.8 502.32 108.5 502.39 117.0 502.42 177.4 502.47 127.2 502.53 104.6 502.56 95.2 502.62 127.2 502.69 106.5 502.73 141.5 502.76 117.1 502.84 111.0 502.89 133.9 502.93 147.9 502.96 121.0 503.03 138.8 503.07 122.7 503.14 117.2 503.17 107.1 503.23 90.3 503.27 111.3 503.32 111.5 503.36 129.1 503.43 117.0 503.47 124.6 503.54 139.7 503.58 143.4 503.63 109.4 503.69 100.5 503.71 177.4 503.79 133.8 503.84 99.5 503.86 98.7 503.91 132.5 503.96 114.3 504.04 119.7 504.09 132.2 504.11 142.8 504.17 94.7 504.23 114.4 504.28 124.7 504.31 115.1 504.39 129.9 504.42 130.5 504.48 116.8 504.53 126.1 504.59 113.1 504.62 127.2 504.68 117.5 504.72 128.2 504.79 135.7 504.82 110.1 504.86 123.3 504.92 113.8 504.98 120.2 505.04 124.0 505.08 141.6 505.13 105.5 505.16 118.7 505.22 119.4 505.28 128.9 505.32 120.2 505.36 121.8 505.44 121.0 505.46 133.7 505.53 122.7 505.58 98.6 505.62 123.4 505.69 129.0 505.71 126.7 505.79 124.4 505.84 114.9 505.88 146.9 505.92 121.5 505.99 130.5 506.03 158.8 506.06 94.5 506.14 126.5 506.17 143.6 506.22 116.1 506.26 115.2 506.32 116.1 506.36 92.1 506.42 159.7 506.47 117.9 506.53 119.8 506.56 131.2 506.64 117.9 506.69 104.7 506.71 78.7 506.76 115.7 506.84 108.1 506.87 113.0 506.92 143.7 506.97 118.0 507.01 135.1 507.07 120.3 507.11 115.9 507.17 138.6 507.21 104.7 507.28 105.6 507.34 120.1 507.39 98.5 507.41 130.9 507.46 132.5 507.54 128.8 507.58 129.9 507.63 101.2 507.66 121.3 507.74 161.1 507.77 94.8 507.81 104.1 507.86 120.0 507.91 126.1 507.98 118.8 508.03 94.8 508.06 115.9 508.14 132.4 508.17 124.5 508.21 112.2 508.27 103.1 508.33 121.2 508.37 108.5 508.42 106.6 508.46 133.2 508.51 119.1 508.57 161.1 508.64 126.2 508.66 117.3 508.71 135.9 508.77 115.9 508.82 123.4 508.89 124.5 508.94 115.9 508.98 131.0 509.02 123.5 509.09 107.7 509.14 111.1 509.16 92.6 509.24 124.8 509.28 139.5 509.34 113.5 509.39 170.0 509.42 97.4 509.49 130.8 509.52 102.4 509.57 133.9 509.63 143.8 509.67 133.1 509.71 117.6 509.79 108.9 509.84 133.4 509.86 109.6 509.93 128.8 509.99 128.7 510.02 137.6 510.09 129.3 510.11 97.2 510.16 133.6 510.21 118.8 510.26 114.4 510.33 125.4 510.36 125.3 510.43 157.6 510.49 120.5 510.53 146.7 510.56 121.6 510.64 119.5 510.69 143.1 510.73 115.3 510.77 136.9 510.83 157.6 510.86 63.7 510.93 120.9 510.96 113.7 511.03 119.4 511.06 79.6 511.13 145.7 511.16 111.9 511.22 129.6 511.27 134.4 511.32 138.9 511.38 134.1 511.41 136.6 511.47 124.0 511.54 120.8 511.56 123.2 511.64 118.4 511.68 131.5 511.71 115.7 511.78 123.5 511.82 117.5 511.87 115.6 511.91 145.7 511.99 108.7 512.01 92.3 512.08 122.5 512.13 109.7 512.17 125.1 512.21 110.1 512.27 122.4 512.32 154.2 512.39 116.5 512.43 113.4 512.48 104.2 512.52 125.7 512.59 104.9 512.61 130.0 512.67 131.0 512.72 145.1 512.77 113.5 512.81 107.0 512.87 134.4 512.91 125.5 512.96 124.8 513.04 154.2 513.08 97.6 513.12 135.8 513.17 124.9 513.23 107.4 513.27 119.0 513.31 120.3 513.38 92.3 513.43 128.4 513.49 135.7 513.51 140.5 513.58 118.3 513.64 113.5 513.68 130.0 513.74 128.7 513.79 117.6 513.83 113.0 513.86 132.9 513.91 110.0 513.98 112.4 514.04 151.2 514.08 142.2 514.13 129.5 514.18 88.6 514.24 71.9 514.26 179.3 514.31 126.5 514.39 116.7 514.44 138.4 514.48 117.5 514.51 113.6 514.57 103.4 514.64 137.9 514.66 105.9 514.71 87.6 514.79 107.9 514.83 109.8 514.86 165.9 514.92 98.0 514.99 87.6 515.02 140.0 515.06 121.2 515.14 118.1 515.18 88.8 515.21 132.1 515.29 103.4 515.31 118.6 515.37 107.8 515.43 122.4 515.49 107.9 515.54 129.2 515.59 129.1 515.64 135.0 515.66 148.2 515.71 127.4 515.76 140.5 515.83 170.0 515.86 120.0 515.91 119.6 515.96 116.6 516.02 122.5 516.09 125.2 516.12 134.1 516.16 129.6 516.23 119.0 516.29 133.2 516.33 115.0 516.39 119.4 516.41 116.0 516.49 119.5 516.52 115.8 516.57 77.9 516.63 112.8 516.68 117.9 516.72 118.5 516.77 132.5 516.82 144.7 516.89 121.6 516.93 111.3 516.99 132.6 517.04 145.2 517.09 88.1 517.13 103.0 517.19 146.2 517.24 142.5 517.28 172.3 517.34 120.1 517.37 105.0 517.41 137.3 517.47 132.7 517.53 127.2 517.59 139.8 517.64 125.5 517.66 124.6 517.71 109.9 517.76 123.4 517.84 127.9 517.86 115.2 517.94 106.4 517.96 107.4 518.02 88.1 518.07 120.4 518.14 116.2 518.18 132.0 518.23 145.8 518.29 138.6 518.33 124.4 518.38 158.4 518.42 107.6 518.49 107.9 518.53 172.3 518.57 107.1 518.61 124.6 518.67 138.4 518.74 113.2 518.76 114.2 518.84 135.4 518.89 142.3 518.91 136.2 518.96 105.5 519.04 111.6 519.06 111.4 519.11 78.3 519.18 113.9 519.22 118.1 519.26 124.9 519.32 121.1 519.36 91.7 519.42 130.3 519.48 126.3 519.52 120.9 519.56 124.4 519.63 145.1 519.66 114.0 519.74 152.4 519.78 100.4 519.81 129.2 519.89 138.0 519.91 113.9 519.96 135.1 520.01 89.0 520.07 130.0 520.12 99.8 520.17 73.6 520.21 94.5 520.26 171.3 520.34 139.8 520.38 140.0 520.41 132.7 520.49 112.1 520.52 115.9 520.58 120.1 520.63 104.5 520.69 94.9 520.73 138.8 520.79 105.4 520.82 83.7 520.87 132.3 520.94 131.5 520.98 115.3 521.02 135.1 521.06 134.0 521.12 127.4 521.16 100.2 521.24 105.4 521.29 133.7 521.31 126.9 521.36 116.1 521.44 121.2 521.47 112.4 521.52 127.2 521.59 139.7 521.62 77.5 521.67 108.5 521.74 138.4 521.78 140.5 521.83 126.8 521.86 140.5 521.93 117.3 521.99 134.3 522.02 124.6 522.07 107.3 522.14 105.0 522.18 116.5 522.23 124.9 522.26 110.4 522.34 114.9 522.37 112.2 522.42 174.9 522.46 114.6 522.53 97.1 522.56 126.2 522.63 119.7 522.67 125.5 522.73 83.4 522.79 153.8 522.82 97.0 522.88 113.9 522.93 125.3 522.96 117.6 523.03 174.9 523.08 120.7 523.14 97.9 523.17 146.6 523.21 120.1 523.26 106.5 523.32 141.2 523.37 133.2 523.43 114.3 523.46 121.1 523.51 126.3 523.58 116.9 523.61 143.1 523.66 83.4 523.71 94.9 523.78 131.6 523.83 114.9 523.89 122.4 523.91 108.4 523.98 116.5 524.01 112.9 524.09 115.7 524.14 146.5 524.18 126.6 524.22 66.8 524.29 146.5 524.31 146.5 524.36 130.8 524.43 119.8 524.46 98.1 524.52 116.4 524.57 134.9 524.62 128.2 524.68 138.6 524.74 122.3 524.79 122.9 524.83 122.2 524.86 118.1 524.92 107.8 524.99 112.6 525.02 144.4 525.07 115.2 525.14 141.2 525.19 158.2 525.23 108.4 525.26 113.3 525.32 135.2 525.39 131.9 525.43 106.8 525.46 63.3 525.51 119.7 525.56 106.6 525.61 158.2 525.69 117.5 525.73 101.5 525.78 93.2 525.84 110.6 525.87 133.1 525.94 106.1 525.99 91.8 526.02 135.7 526.07 118.3 526.14 112.9 526.18 95.6 526.24 114.2 526.27 166.5 526.31 127.6 526.38 130.4 526.41 137.7 526.47 137.8 526.52 92.5 526.58 120.5 526.63 131.2 526.69 121.5 526.74 125.1 526.76 124.5 526.81 127.0 526.88 118.1 526.92 121.5 526.99 154.4 527.04 124.3 527.07 127.2 527.12 134.5 527.18 133.8 527.22 130.7 527.29 138.3 527.32 116.6 527.36 113.3 527.41 112.0 527.49 130.3 527.52 160.3 527.56 119.1 527.64 126.9 527.66 125.2 527.71 125.2 527.78 139.5 527.84 94.3 527.89 137.6 527.94 139.1 527.97 113.0 528.01 141.3 528.06 111.8 528.12 94.3 528.19 111.8 528.24 120.0 528.27 109.4 528.32 126.5 528.36 127.6 528.42 114.0 528.46 114.0 528.54 136.6 528.57 108.8 528.61 109.1 528.66 110.7 528.71 129.8 528.76 108.1 528.82 116.2 528.89 111.8 528.94 122.4 528.96 160.3 529.04 144.4 529.07 122.1 529.13 119.7 529.16 118.1 529.21 121.0 529.26 122.5 529.31 146.6 529.37 121.0 529.43 121.1 529.47 108.6 529.53 113.2 529.57 114.1 529.61 127.2 529.69 126.0 529.73 113.0 529.79 130.8 529.84 113.3 529.87 133.3 529.91 95.2 529.96 111.4 530.04 58.9 530.07 145.6 530.11 130.0 530.17 132.1 530.22 97.7 530.29 100.8 530.32 126.0 530.36 120.5 530.42 97.9 530.46 126.0 530.54 128.3 530.58 134.0 530.64 99.7 530.66 119.6 530.74 121.8 530.77 127.9 530.83 134.9 530.89 108.3 530.93 132.9 530.99 129.4 531.04 116.4 531.09 121.7 531.12 60.5 531.16 151.4 531.21 132.5 531.29 121.8 531.34 146.9 531.36 146.4 531.43 143.7 531.46 124.2 531.52 85.2 531.58 107.5 531.64 103.9 531.66 122.0 531.73 98.4 531.79 116.8 531.82 121.2 531.89 105.9 531.92 140.3 531.96 151.4 532.04 142.1 532.09 111.8 532.14 136.5 532.17 124.0 532.21 126.3 532.27 122.2 532.34 124.4 532.36 110.3 532.43 122.2 532.46 130.0 532.54 100.8 532.59 90.3 532.61 123.5 532.68 114.6 532.74 127.2 532.77 124.1 532.82 114.7 532.87 132.3 532.92 126.0 532.98 114.1 533.04 116.7 533.06 142.1 533.11 111.5 533.16 116.2 533.23 90.3 533.29 125.3 533.34 116.1 533.38 127.8 533.42 113.9 533.49 112.2 533.51 114.0 533.57 133.1 533.63 118.3 533.69 118.9 533.72 114.6 533.79 135.5 533.82 127.2 533.89 122.8 533.93 110.1 533.97 127.2 534.03 111.2 534.08 147.8 534.12 117.0 534.17 119.8 534.24 125.1 534.29 148.7 534.32 113.4 534.38 85.1 534.41 118.7 534.47 133.0 534.52 129.5 534.58 111.4 534.63 59.3 534.66 113.1 534.72 114.1 534.76 118.1 534.84 128.7 534.86 121.0 534.92 140.1 534.97 111.0 535.03 91.3 535.06 123.3 535.12 116.0 535.17 111.2 535.21 114.2 535.29 126.3 535.33 138.6 535.39 120.9 535.41 145.2 535.48 115.9 535.53 116.4 535.59 132.9 535.61 116.7 535.66 127.9 535.72 110.6 535.79 128.8 535.81 145.2 535.88 127.8 535.92 119.8 535.96 131.2 536.01 101.4 536.09 109.2 536.14 158.6 536.19 119.1 536.24 118.9 536.26 98.4 536.34 130.2 536.37 117.5 536.42 120.2 536.47 118.0 536.54 114.0 536.59 120.3 536.62 111.2 536.66 133.2 536.72 115.3 536.76 135.8 536.81 107.6 536.87 108.9 536.92 78.7 536.96 128.7 537.01 136.1 537.09 154.3 537.13 137.0 537.19 129.3 537.21 126.3 537.26 43.8 537.33 111.5 537.38 100.7 537.44 146.1 537.49 131.4 537.54 129.5 537.56 148.2 537.63 146.7 537.69 129.4 537.73 139.1 537.76 117.0 537.82 107.8 537.87 119.4 537.91 117.6 537.98 139.5 538.02 95.9 538.09 101.9 538.14 118.7 538.18 88.3 538.21 149.8 538.29 124.0 538.32 132.8 538.39 96.2 538.41 94.3 538.49 154.3 538.54 120.2 538.59 105.8 538.63 43.8 538.69 117.9 538.71 104.7 538.77 87.6 538.81 120.5 538.89 142.6 538.93 124.6 538.99 123.3 539.03 143.5 539.09 116.9 539.14 102.6 539.17 163.5 539.22 115.5 539.26 112.9 539.33 111.7 539.38 111.9 539.42 115.3 539.46 130.2 539.51 107.8 539.56 117.0 539.64 109.4 539.69 117.4 539.72 126.8 539.79 61.6 539.83 112.5 539.88 105.4 539.94 154.0 539.97 143.6 540.03 126.1 540.06 139.0 540.14 139.1 540.18 138.1 540.24 114.5 540.29 123.6 540.33 134.9 540.39 128.1 540.42 151.2 540.47 128.0 540.54 109.8 540.57 138.9 540.64 126.2 540.67 120.3 540.71 118.2 540.78 141.0 540.84 120.8 540.86 133.1 540.94 98.3 540.97 136.0 541.02 110.7 541.09 109.6 541.14 131.5 541.18 102.8 541.24 111.7 541.28 120.8 541.32 141.4 541.38 119.3 541.44 120.1 541.48 130.9 541.54 125.6 541.57 86.8 541.63 112.4 541.68 117.8 541.73 118.4 541.77 123.0 541.81 110.9 541.86 141.4 541.91 130.0 541.96 113.6 542.03 115.8 542.07 122.2 542.13 121.5 542.18 117.4 542.22 116.7 542.29 125.2 542.34 127.0 542.36 124.0 542.44 117.8 542.48 125.9 542.54 131.5 542.57 141.4 542.62 126.2 542.68 116.6 542.74 86.8 542.77 125.5 542.83 105.4 542.87 118.0 542.92 130.1 542.97 111.3 543.01 86.8 543.07 141.4 543.12 114.3 543.18 127.4 543.23 132.1 543.26 115.6" fill="none" stroke="#0072bd" stroke-width="0.7" stroke-linejoin="bevel"/>
<g font-size="19" style="fill:#262626">
<text x="63.8" y="250.5" text-anchor="middle">0</text><text x="159.5" y="250.5" text-anchor="middle">0.2</text><text x="255.2" y="250.5" text-anchor="middle">0.4</text><text x="350.9" y="250.5" text-anchor="middle">0.6</text><text x="446.6" y="250.5" text-anchor="middle">0.8</text><text x="542.3" y="250.5" text-anchor="middle">1</text>
<text x="60.6" y="21.3" text-anchor="end">1</text><text x="60.6" y="74.6" text-anchor="end">0.5</text><text x="60.6" y="127.9" text-anchor="end">0</text><text x="58.9" y="181.1" text-anchor="end">-<tspan dx="1">0.5</tspan></text><text x="58.9" y="234.4" text-anchor="end">-<tspan dx="1">1</tspan></text>
<text x="302.5" y="273" text-anchor="middle" letter-spacing="0.6">Time/s</text>
<text transform="translate(21.8,119.7) rotate(-90)" text-anchor="middle" font-size="18.5">Amplitude</text>
</g>
<g stroke="#000" stroke-width="2" fill="none">
<line x1="159.2" y1="53" x2="159.2" y2="116"/><line x1="257.6" y1="53.2" x2="257.6" y2="116"/><line x1="356.4" y1="53.4" x2="356.4" y2="116"/><line x1="159" y1="72.5" x2="182" y2="72.5"/><polyline points="168.5,63.0 159,72.5 168.5,82.0" fill="none"/><line x1="234" y1="72.5" x2="257.5" y2="72.5"/><polyline points="248.0,63.0 257.5,72.5 248.0,82.0" fill="none"/><line x1="257.5" y1="72.5" x2="281" y2="72.5"/><polyline points="267.0,63.0 257.5,72.5 267.0,82.0" fill="none"/><line x1="332" y1="72.5" x2="356" y2="72.5"/><polyline points="346.5,63.0 356,72.5 346.5,82.0" fill="none"/><line x1="208.2" y1="119.4" x2="208.2" y2="181.6"/><line x1="307" y1="119.4" x2="307" y2="181"/><line x1="208" y1="139.7" x2="231.5" y2="139.7"/><polyline points="217.5,130.2 208,139.7 217.5,149.2" fill="none"/><line x1="283.5" y1="139.7" x2="307" y2="139.7"/><polyline points="297.5,130.2 307,139.7 297.5,149.2" fill="none"/>
</g>
<g font-size="21" text-anchor="middle">
<text x="209" y="67">frame</text><text x="209" y="85.3">g</text>
<text x="306.5" y="67">frame</text><text x="306.5" y="85.3">g+2</text>
<text x="259.5" y="135.5">frame</text><text x="258" y="152.8">g+1</text>
</g>
<g font-size="21.8">
<text x="325.4" y="191.2">Sampling rate = 20 kHz</text>
<text x="330.3" y="215">Frame length = 4096</text>
</g>
</svg>
</body></html>
